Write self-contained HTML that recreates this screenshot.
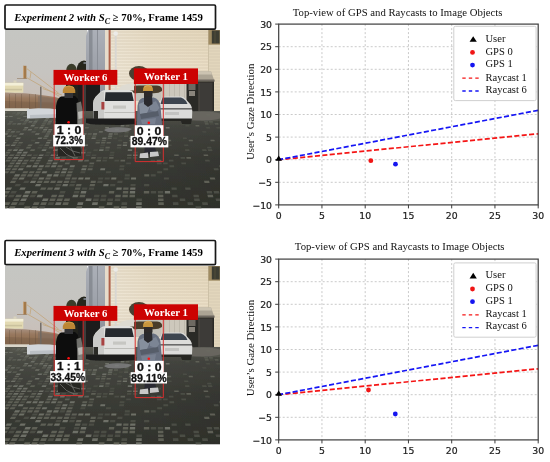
<!DOCTYPE html><html><head><meta charset="utf-8"><style>
html,body{margin:0;padding:0;background:#fff;width:550px;height:462px;overflow:hidden}
.tb{position:absolute;left:4px;width:200px;height:22.5px;border:1.5px solid transparent;background:transparent;
 font-family:"Liberation Serif",serif;font-size:10.75px;line-height:24.3px;white-space:nowrap;padding-left:9.2px;box-sizing:content-box;color:#000;overflow:hidden}
.tb .bi{font-style:italic;font-weight:bold}
.tb .it{font-style:italic;font-weight:bold}
.tb sub{font-size:8px;vertical-align:-2.5px;line-height:0}
.tb .b{font-weight:bold}
svg{position:absolute;left:0;top:0}
.wl{font-family:"Liberation Serif",serif;font-weight:bold;font-size:10.7px;fill:#fff;text-anchor:middle}
.sc{font-family:"Liberation Sans",sans-serif;font-weight:bold;font-size:10.2px;fill:#111;stroke:#111;stroke-width:0.3;text-anchor:middle}
.ttl{font-family:"Liberation Serif",serif;font-size:10.72px;fill:#111;text-anchor:middle}
.tk{font-family:"DejaVu Sans",sans-serif;font-size:9.3px;fill:#222;stroke:#222;stroke-width:0.22}
.yl{font-family:"Liberation Serif",serif;font-size:10.8px;fill:#111;text-anchor:middle}
.lg{font-family:"Liberation Serif",serif;font-size:10.55px;fill:#111}
.grid{stroke:#c4c4c4;stroke-width:0.9;stroke-dasharray:2 2;fill:none}
.ray{stroke-width:1.7;stroke-dasharray:5.1 2.32;stroke-dashoffset:0.69;fill:none}
.lray{stroke-width:1.3;stroke-dasharray:3.4 3.1;fill:none}
</style></head><body>
<svg width="550" height="462" viewBox="0 0 550 462">
<defs>
<linearGradient id="sky" x1="0" y1="0" x2="0" y2="1">
<stop offset="0" stop-color="#c5c6c2"/><stop offset="0.5" stop-color="#c6c4c0"/><stop offset="0.82" stop-color="#c9bfb8"/><stop offset="1" stop-color="#c6b5a9"/></linearGradient>
<linearGradient id="facade" x1="0" y1="0" x2="0" y2="1">
<stop offset="0" stop-color="#e4d7bc"/><stop offset="0.45" stop-color="#eadec6"/><stop offset="1" stop-color="#ddd1b9"/></linearGradient>
<linearGradient id="ground" x1="0" y1="0" x2="0" y2="1">
<stop offset="0" stop-color="#56574f"/><stop offset="0.15" stop-color="#474842"/><stop offset="0.5" stop-color="#3b3c36"/><stop offset="1" stop-color="#32342e"/></linearGradient>
<linearGradient id="groundh" x1="0" y1="0" x2="1" y2="0">
<stop offset="0" stop-color="#000" stop-opacity="0"/><stop offset="0.5" stop-color="#000" stop-opacity="0"/><stop offset="1" stop-color="#000" stop-opacity="0.1"/></linearGradient>
<filter id="soft" x="0" y="0" width="1" height="1"><feGaussianBlur stdDeviation="0.45"/></filter>
<linearGradient id="bside" x1="0" y1="0" x2="0" y2="1">
<stop offset="0" stop-color="#acb0b8"/><stop offset="0.6" stop-color="#989ca4"/><stop offset="1" stop-color="#82868e"/></linearGradient>
<linearGradient id="brown" x1="0" y1="0" x2="0" y2="1">
<stop offset="0" stop-color="#a89282"/><stop offset="0.35" stop-color="#98785e"/><stop offset="0.7" stop-color="#8c6c51"/><stop offset="1" stop-color="#86684e"/></linearGradient>
<linearGradient id="facadeh" x1="0" y1="0" x2="1" y2="0">
<stop offset="0" stop-color="#f4f2ee" stop-opacity="0.45"/><stop offset="0.45" stop-color="#f4f2ee" stop-opacity="0.15"/><stop offset="1" stop-color="#f4f2ee" stop-opacity="0"/></linearGradient>
</defs>
<rect x="5" y="5" width="210.5" height="24.2" rx="1.2" fill="#fff" stroke="#181818" stroke-width="1.7"/>
<rect x="5" y="240.5" width="210.5" height="24.2" rx="1.2" fill="#fff" stroke="#181818" stroke-width="1.7"/>
<g transform="translate(0,0)">
<clipPath id="cp0"><rect x="5" y="30" width="215" height="178.5"/></clipPath>
<g clip-path="url(#cp0)"><g filter="url(#soft)">
<rect x="5" y="30" width="82" height="85" fill="url(#sky)"/>
<rect x="5" y="82.7" width="18.3" height="10" fill="#e2d9b2"/>
<rect x="5" y="83" width="18.3" height="2.6" fill="#f3efd8"/>
<rect x="5" y="88.8" width="17" height="1.6" fill="#cbc29e"/>
<rect x="13.5" y="80.5" width="3" height="2.5" fill="#d8d2bc"/>
<path d="M5 92.5 L15 93 L25 93.3 L35 94.3 L45 95.5 L55 97 L63 99.5 L63 109.5 L5 109.5 Z" fill="url(#brown)"/>
<path d="M38 96 L63 99.5 L63 109.5 L38 109.5 Z" fill="#7c6c60" opacity="0.55"/>
<path d="M5 101 L63 103 L63 109.5 L5 109.5 Z" fill="#7a5f4a" opacity="0.5"/>
<rect x="9" y="94" width="0.7" height="14" fill="#5e4a3a" opacity="0.45"/>
<rect x="15" y="94" width="0.7" height="14" fill="#5e4a3a" opacity="0.45"/>
<rect x="21" y="94" width="0.7" height="14" fill="#5e4a3a" opacity="0.45"/>
<rect x="29" y="94" width="0.7" height="14" fill="#5e4a3a" opacity="0.45"/>
<rect x="35" y="94" width="0.7" height="14" fill="#5e4a3a" opacity="0.45"/>
<rect x="5" y="108.3" width="24" height="2.8" fill="#dad6ca"/>
<path d="M5 111 L28 111 L28 118 L5 118 Z" fill="#4a4c4a"/>
<rect x="23.2" y="65.8" width="3.2" height="13" fill="#a37a4c"/>
<rect x="23.2" y="65.8" width="0.8" height="13" fill="#c8a478"/>
<path d="M26 68 L58.5 93 M26.4 77.5 L59.5 96.4 M42.7 88.6 L62 95 M31 72 L30 78.5" stroke="#c2a882" stroke-width="0.9" fill="none"/>
<path d="M17 78.5 L27 78.5" stroke="#9a8470" stroke-width="0.7"/>
<rect x="40.1" y="86.6" width="1.4" height="26.5" fill="#6e6862"/>
<ellipse cx="71.5" cy="70.5" rx="5.3" ry="6.8" fill="#3a3c2c"/>
<ellipse cx="84" cy="69.5" rx="7.3" ry="9" fill="#25261f"/>
<rect x="66" y="71" width="26" height="48" fill="#22231d"/>
<path d="M86 36 L88 30 L105 30 L105 113 L86 113 Z" fill="url(#bside)"/>
<rect x="89" y="30" width="3.5" height="80" fill="#7c8088" opacity="0.7"/>
<rect x="97" y="30" width="1" height="80" fill="#8a8e96"/>
<rect x="83.5" y="62" width="2.5" height="2" fill="#70747a"/>
<rect x="105" y="30" width="110" height="84" fill="url(#facade)"/>
<rect x="105" y="30" width="103" height="84" fill="url(#facadeh)"/>
<path d="M111 32 L208 32" stroke="#c6b79e" stroke-width="0.7" opacity="0.6"/>
<path d="M111 35 L208 35" stroke="#c6b79e" stroke-width="0.7" opacity="0.6"/>
<path d="M111 38 L208 38" stroke="#c6b79e" stroke-width="0.7" opacity="0.6"/>
<path d="M111 41 L208 41" stroke="#c6b79e" stroke-width="0.7" opacity="0.6"/>
<path d="M111 44 L208 44" stroke="#c6b79e" stroke-width="0.7" opacity="0.6"/>
<path d="M111 47 L208 47" stroke="#c6b79e" stroke-width="0.7" opacity="0.6"/>
<path d="M111 50 L208 50" stroke="#c6b79e" stroke-width="0.7" opacity="0.6"/>
<path d="M111 53 L208 53" stroke="#c6b79e" stroke-width="0.7" opacity="0.6"/>
<path d="M111 56 L208 56" stroke="#c6b79e" stroke-width="0.7" opacity="0.6"/>
<path d="M111 59 L208 59" stroke="#c6b79e" stroke-width="0.7" opacity="0.6"/>
<path d="M111 62 L208 62" stroke="#c6b79e" stroke-width="0.7" opacity="0.6"/>
<path d="M111 65 L208 65" stroke="#c6b79e" stroke-width="0.7" opacity="0.6"/>
<path d="M111 68 L208 68" stroke="#c6b79e" stroke-width="0.7" opacity="0.6"/>
<path d="M111 71 L208 71" stroke="#c6b79e" stroke-width="0.7" opacity="0.6"/>
<path d="M111 74 L208 74" stroke="#c6b79e" stroke-width="0.7" opacity="0.6"/>
<path d="M111 77 L208 77" stroke="#c6b79e" stroke-width="0.7" opacity="0.6"/>
<path d="M111 80 L208 80" stroke="#c6b79e" stroke-width="0.7" opacity="0.6"/>
<path d="M111 83 L208 83" stroke="#c6b79e" stroke-width="0.7" opacity="0.6"/>
<path d="M111 86 L208 86" stroke="#c6b79e" stroke-width="0.7" opacity="0.6"/>
<path d="M111 89 L208 89" stroke="#c6b79e" stroke-width="0.7" opacity="0.6"/>
<path d="M111 92 L208 92" stroke="#c6b79e" stroke-width="0.7" opacity="0.6"/>
<path d="M111 95 L208 95" stroke="#c6b79e" stroke-width="0.7" opacity="0.6"/>
<path d="M111 98 L208 98" stroke="#c6b79e" stroke-width="0.7" opacity="0.6"/>
<rect x="105" y="30" width="3.5" height="84" fill="#e6dccb"/>
<rect x="208" y="30" width="12" height="84" fill="#e2d6bc"/>
<rect x="208" y="30" width="0.8" height="84" fill="#c8bca2"/>
<path d="M209 48 L220 48" stroke="#c2b6a2" stroke-width="0.6" opacity="0.5"/>
<path d="M209 51 L220 51" stroke="#c2b6a2" stroke-width="0.6" opacity="0.5"/>
<path d="M209 54 L220 54" stroke="#c2b6a2" stroke-width="0.6" opacity="0.5"/>
<path d="M209 57 L220 57" stroke="#c2b6a2" stroke-width="0.6" opacity="0.5"/>
<path d="M209 60 L220 60" stroke="#c2b6a2" stroke-width="0.6" opacity="0.5"/>
<path d="M209 63 L220 63" stroke="#c2b6a2" stroke-width="0.6" opacity="0.5"/>
<path d="M209 66 L220 66" stroke="#c2b6a2" stroke-width="0.6" opacity="0.5"/>
<path d="M209 69 L220 69" stroke="#c2b6a2" stroke-width="0.6" opacity="0.5"/>
<path d="M209 72 L220 72" stroke="#c2b6a2" stroke-width="0.6" opacity="0.5"/>
<path d="M209 75 L220 75" stroke="#c2b6a2" stroke-width="0.6" opacity="0.5"/>
<path d="M209 78 L220 78" stroke="#c2b6a2" stroke-width="0.6" opacity="0.5"/>
<path d="M209 81 L220 81" stroke="#c2b6a2" stroke-width="0.6" opacity="0.5"/>
<path d="M209 84 L220 84" stroke="#c2b6a2" stroke-width="0.6" opacity="0.5"/>
<path d="M209 87 L220 87" stroke="#c2b6a2" stroke-width="0.6" opacity="0.5"/>
<path d="M209 90 L220 90" stroke="#c2b6a2" stroke-width="0.6" opacity="0.5"/>
<path d="M209 93 L220 93" stroke="#c2b6a2" stroke-width="0.6" opacity="0.5"/>
<path d="M209 96 L220 96" stroke="#c2b6a2" stroke-width="0.6" opacity="0.5"/>
<path d="M209 99 L220 99" stroke="#c2b6a2" stroke-width="0.6" opacity="0.5"/>
<path d="M209 102 L220 102" stroke="#c2b6a2" stroke-width="0.6" opacity="0.5"/>
<path d="M209 105 L220 105" stroke="#c2b6a2" stroke-width="0.6" opacity="0.5"/>
<path d="M209 108 L220 108" stroke="#c2b6a2" stroke-width="0.6" opacity="0.5"/>
<path d="M209 111 L220 111" stroke="#c2b6a2" stroke-width="0.6" opacity="0.5"/>
<rect x="208.4" y="30" width="11.6" height="14.7" fill="#a08c64"/>
<rect x="211.8" y="30.5" width="7.8" height="13" fill="#3e3c30"/>
<rect x="214.5" y="31" width="1" height="12" fill="#55533f" opacity="0.8"/>
<path d="M198 71.5 L211 71.5 L214.5 81 L196.5 81 Z" fill="#aca494"/>
<path d="M198 71.5 L211 71.5 L212 74.5 L197.5 74.5 Z" fill="#ccc3b1"/>
<path d="M196.5 79.5 L214.5 79.5 L214.5 81.8 L196.5 81.8 Z" fill="#6e6860"/>
<rect x="160" y="83" width="27" height="18" fill="#cdc8bc"/>
<rect x="164" y="84" width="0.7" height="16" fill="#a8a498" opacity="0.6"/>
<rect x="169" y="84" width="0.7" height="16" fill="#a8a498" opacity="0.6"/>
<rect x="174" y="84" width="0.7" height="16" fill="#a8a498" opacity="0.6"/>
<rect x="179" y="84" width="0.7" height="16" fill="#a8a498" opacity="0.6"/>
<rect x="184" y="84" width="0.7" height="16" fill="#a8a498" opacity="0.6"/>
<rect x="186.5" y="81.5" width="27.5" height="31" fill="#2c2a27"/>
<rect x="188.5" y="84" width="7" height="6" fill="#6e6a62"/>
<rect x="189" y="91" width="6" height="5" fill="#8a857c"/>
<rect x="199.5" y="82.5" width="13" height="29" fill="#3c3b38"/>
<rect x="198.5" y="82.5" width="1" height="29" fill="#55524c"/>
<rect x="108.6" y="30" width="2" height="62" fill="#ad604a"/>
<rect x="114.8" y="35" width="1.8" height="56" fill="#d8d6d2"/>
<ellipse cx="115.7" cy="33.5" rx="2.3" ry="2.2" fill="#ecebe8"/>
<rect x="78" y="84" width="22" height="37" fill="#1e1f1b"/>
<rect x="84.5" y="84" width="1" height="36" fill="#5a5c5a"/>
<rect x="134" y="84" width="27" height="17" fill="#c2c0b8"/>
<ellipse cx="139" cy="73.5" rx="10" ry="7.5" fill="#4a4030"/>
<path d="M129 91 Q131 85 140 85.5 L157 85.5 Q163 86 162 91 Q158 94 150 93 L138 93 Q131 94 129 91 Z" fill="#4a3e2a"/>
<path d="M117 90 Q122 83 134 83.5 L134 90.5 Z" fill="#dedbd2"/>
<rect x="5" y="111" width="215" height="97.5" fill="url(#ground)"/>
<rect x="5" y="111" width="215" height="98" fill="url(#groundh)"/>
<path d="M3.6 112.5L7.1 112.5L6.0 113.6L2.5 113.6zM17.3 112.5L20.8 112.5L19.9 113.6L16.4 113.6zM21.9 112.5L25.4 112.5L24.5 113.6L21.0 113.6zM26.5 112.5L30.0 112.5L29.1 113.6L25.6 113.6zM31.1 112.5L34.6 112.5L33.8 113.6L30.3 113.6zM40.3 112.5L43.8 112.5L43.0 113.6L39.5 113.6zM67.9 112.5L71.4 112.5L70.8 113.6L67.3 113.6zM100.0 112.5L103.5 112.5L103.2 113.6L99.7 113.6zM39.1 114.2L42.6 114.2L41.8 115.3L38.3 115.3zM53.0 114.2L56.6 114.2L55.9 115.3L52.3 115.3zM62.3 114.2L65.8 114.2L65.2 115.3L61.7 115.3zM0.3 115.9L3.8 115.9L2.7 117.1L-0.9 117.1zM5.0 115.9L8.5 115.9L7.5 117.1L3.9 117.1zM9.7 115.9L13.2 115.9L12.2 117.1L8.6 117.1zM23.7 115.9L27.3 115.9L26.4 117.1L22.8 117.1zM28.4 115.9L32.0 115.9L31.1 117.1L27.5 117.1zM47.2 115.9L50.8 115.9L50.1 117.1L46.5 117.1zM51.9 115.9L55.5 115.9L54.8 117.1L51.2 117.1zM61.3 115.9L64.9 115.9L64.3 117.1L60.7 117.1zM164.7 115.9L168.2 115.9L168.4 117.1L164.8 117.1zM46.1 117.7L49.7 117.7L48.9 118.9L45.3 118.9zM79.3 117.7L82.9 117.7L82.4 118.9L78.8 118.9zM117.3 117.7L120.9 117.7L120.7 118.9L117.1 118.9zM25.7 119.5L29.3 119.5L28.4 120.7L24.7 120.7zM44.9 119.5L48.5 119.5L47.8 120.7L44.1 120.7zM64.1 119.5L67.7 119.5L67.1 120.7L63.4 120.7zM29.1 121.3L32.8 121.3L31.9 122.6L28.2 122.6zM33.9 121.3L37.6 121.3L36.8 122.6L33.1 122.6zM48.5 121.3L52.2 121.3L51.5 122.6L47.7 122.6zM58.2 121.3L61.9 121.3L61.3 122.6L57.5 122.6zM77.7 121.3L81.4 121.3L80.8 122.6L77.1 122.6zM87.4 121.3L91.1 121.3L90.6 122.6L86.9 122.6zM106.8 121.3L110.5 121.3L110.2 122.6L106.5 122.6zM126.3 121.3L130.0 121.3L129.8 122.6L126.1 122.6zM17.8 123.2L21.6 123.2L20.6 124.5L16.8 124.5zM91.6 123.2L95.3 123.2L94.9 124.5L91.1 124.5zM101.4 123.2L105.2 123.2L104.8 124.5L101.1 124.5zM31.2 125.1L35.0 125.1L34.1 126.4L30.3 126.4zM120.8 125.1L124.5 125.1L124.3 126.4L120.5 126.4zM24.8 127.1L28.6 127.1L27.6 128.4L23.8 128.4zM39.9 127.1L43.7 127.1L42.9 128.4L39.0 128.4zM105.3 127.1L109.1 127.1L108.8 128.4L105.0 128.4zM165.7 127.1L169.5 127.1L169.7 128.4L165.8 128.4zM28.4 129.1L32.2 129.1L31.3 130.5L27.4 130.5zM43.6 129.1L47.5 129.1L46.7 130.5L42.8 130.5zM48.7 129.1L52.6 129.1L51.8 130.5L47.9 130.5zM115.0 129.1L118.8 129.1L118.6 130.5L114.7 130.5zM1.1 131.2L5.0 131.2L3.9 132.5L-0.1 132.5zM11.4 131.2L15.3 131.2L14.3 132.5L10.3 132.5zM47.5 131.2L51.4 131.2L50.6 132.5L46.7 132.5zM73.3 131.2L77.2 131.2L76.6 132.5L72.7 132.5zM99.1 131.2L103.0 131.2L102.6 132.5L98.7 132.5zM4.5 133.2L8.5 133.2L7.3 134.7L3.3 134.7zM20.2 133.2L24.1 133.2L23.1 134.7L19.1 134.7zM35.8 133.2L39.8 133.2L38.9 134.7L34.9 134.7zM67.1 133.2L71.1 133.2L70.5 134.7L66.5 134.7zM82.8 133.2L86.8 133.2L86.2 134.7L82.2 134.7zM93.2 133.2L97.2 133.2L96.8 134.7L92.8 134.7zM108.9 133.2L112.8 133.2L112.5 134.7L108.5 134.7zM8.0 135.4L12.0 135.4L10.9 136.8L6.8 136.8zM45.0 135.4L49.0 135.4L48.2 136.8L44.1 136.8zM71.4 135.4L75.4 135.4L74.8 136.8L70.8 136.8zM76.7 135.4L80.7 135.4L80.1 136.8L76.1 136.8zM108.4 135.4L112.4 135.4L112.1 136.8L108.0 136.8zM150.6 135.4L154.6 135.4L154.7 136.8L150.6 136.8zM16.9 137.6L21.0 137.6L19.9 139.0L15.8 139.0zM38.3 137.6L42.4 137.6L41.5 139.0L37.4 139.0zM91.8 137.6L95.9 137.6L95.4 139.0L91.3 139.0zM102.5 137.6L106.6 137.6L106.2 139.0L102.1 139.0zM129.2 137.6L133.3 137.6L133.2 139.0L129.1 139.0zM74.8 139.8L78.9 139.8L78.3 141.3L74.2 141.3zM150.6 139.8L154.8 139.8L154.8 141.3L150.7 141.3zM2.6 142.1L6.7 142.1L5.5 143.6L1.3 143.6zM35.5 142.1L39.7 142.1L38.7 143.6L34.5 143.6zM46.5 142.1L50.6 142.1L49.8 143.6L45.6 143.6zM73.9 142.1L78.0 142.1L77.4 143.6L73.2 143.6zM139.7 142.1L143.9 142.1L143.8 143.6L139.6 143.6zM0.7 144.4L4.9 144.4L3.7 146.0L-0.6 146.0zM11.8 144.4L16.0 144.4L14.9 146.0L10.6 146.0zM84.0 144.4L88.2 144.4L87.7 146.0L83.4 146.0zM122.9 144.4L127.1 144.4L126.9 146.0L122.7 146.0zM71.9 146.8L76.2 146.8L75.5 148.4L71.2 148.4zM77.5 146.8L81.8 146.8L81.2 148.4L76.9 148.4zM13.9 149.3L18.2 149.3L17.0 150.9L12.7 150.9zM19.6 149.3L23.9 149.3L22.8 150.9L18.4 150.9zM42.4 149.3L46.7 149.3L45.8 150.9L41.4 150.9zM53.8 149.3L58.1 149.3L57.3 150.9L52.9 150.9zM59.5 149.3L63.8 149.3L63.0 150.9L58.7 150.9zM99.4 149.3L103.7 149.3L103.3 150.9L98.9 150.9zM127.9 149.3L132.2 149.3L132.1 150.9L127.7 150.9zM17.8 151.8L22.2 151.8L21.1 153.5L16.7 153.5zM23.6 151.8L28.0 151.8L26.9 153.5L22.5 153.5zM75.6 151.8L80.0 151.8L79.4 153.5L74.9 153.5zM81.4 151.8L85.8 151.8L85.2 153.5L80.8 153.5zM21.9 154.4L26.4 154.4L25.3 156.1L20.8 156.1zM39.5 154.4L43.9 154.4L43.0 156.1L38.5 156.1zM51.2 154.4L55.6 154.4L54.8 156.1L50.3 156.1zM57.0 154.4L61.5 154.4L60.7 156.1L56.2 156.1zM133.1 154.4L137.6 154.4L137.5 156.1L133.0 156.1zM14.2 157.0L18.8 157.0L17.6 158.8L13.0 158.8zM38.0 157.0L42.5 157.0L41.5 158.8L37.0 158.8zM55.8 157.0L60.3 157.0L59.5 158.8L54.9 158.8zM18.4 159.7L23.0 159.7L21.8 161.5L17.2 161.5zM48.5 159.7L53.0 159.7L52.1 161.5L47.5 161.5zM60.5 159.7L65.1 159.7L64.3 161.5L59.7 161.5zM78.5 159.7L83.1 159.7L82.5 161.5L77.9 161.5zM16.6 162.5L21.2 162.5L20.0 164.3L15.3 164.3zM53.2 162.5L57.8 162.5L56.9 164.3L52.3 164.3zM27.1 165.3L31.8 165.3L30.6 167.2L25.9 167.2zM33.2 165.3L37.9 165.3L36.9 167.2L32.2 167.2zM39.4 165.3L44.1 165.3L43.1 167.2L38.4 167.2zM51.8 165.3L56.5 165.3L55.6 167.2L50.9 167.2zM70.3 165.3L75.0 165.3L74.3 167.2L69.6 167.2zM0.2 168.2L5.0 168.2L3.6 170.2L-1.2 170.2zM19.0 168.2L23.8 168.2L22.6 170.2L17.8 170.2zM62.9 168.2L67.7 168.2L66.9 170.2L62.1 170.2zM81.8 168.2L86.5 168.2L85.9 170.2L81.1 170.2zM100.6 168.2L105.3 168.2L104.9 170.2L100.1 170.2zM42.6 171.2L47.4 171.2L46.4 173.3L41.6 173.3zM61.7 171.2L66.5 171.2L65.7 173.3L60.8 173.3zM15.2 174.3L20.1 174.3L18.9 176.4L13.9 176.4zM47.5 174.3L52.4 174.3L51.4 176.4L46.5 176.4zM53.9 174.3L58.9 174.3L58.0 176.4L53.0 176.4zM19.8 177.5L24.8 177.5L23.5 179.6L18.5 179.6zM39.4 177.5L44.4 177.5L43.4 179.6L38.3 179.6zM78.7 177.5L83.7 177.5L83.1 179.6L78.0 179.6zM85.3 177.5L90.3 177.5L89.7 179.6L84.6 179.6zM111.5 177.5L116.5 177.5L116.1 179.6L111.1 179.6zM131.1 177.5L136.1 177.5L136.0 179.6L131.0 179.6zM31.1 180.7L36.2 180.7L35.0 182.9L29.9 182.9zM36.1 184.1L41.2 184.1L40.1 186.3L34.9 186.3zM63.1 184.1L68.2 184.1L67.4 186.3L62.2 186.3zM103.6 184.1L108.7 184.1L108.3 186.3L103.1 186.3zM6.9 187.5L12.1 187.5L10.7 189.8L5.5 189.8zM20.6 187.5L25.8 187.5L24.6 189.8L19.3 189.8zM54.9 187.5L60.1 187.5L59.2 189.8L53.9 189.8zM116.6 187.5L121.8 187.5L121.5 189.8L116.2 189.8zM130.3 187.5L135.5 187.5L135.3 189.8L130.1 189.8zM25.6 191.0L30.9 191.0L29.6 193.4L24.3 193.4zM81.2 191.0L86.5 191.0L85.9 193.4L80.5 193.4zM130.0 191.0L135.2 191.0L135.1 193.4L129.8 193.4zM164.8 191.0L170.0 191.0L170.2 193.4L164.9 193.4zM23.6 194.7L29.0 194.7L27.7 197.2L22.3 197.2zM37.7 194.7L43.1 194.7L42.0 197.2L36.6 197.2zM73.1 194.7L78.5 194.7L77.7 197.2L72.3 197.2zM21.6 198.4L27.0 198.4L25.7 201.0L20.2 201.0zM43.1 198.4L48.6 198.4L47.5 201.0L42.0 201.0zM86.2 198.4L91.7 198.4L91.1 201.0L85.5 201.0zM56.0 202.3L61.5 202.3L60.6 204.9L55.0 204.9zM77.9 202.3L83.4 202.3L82.7 204.9L77.1 204.9zM92.5 202.3L98.0 202.3L97.5 204.9L91.9 204.9zM136.3 202.3L141.8 202.3L141.7 204.9L136.1 204.9zM136.1 206.3L141.7 206.3L141.6 209.0L135.9 209.0z" fill="#6e7067"/>
<path d="M12.8 112.5L16.2 112.5L15.3 113.6L11.7 113.6zM72.5 112.5L76.0 112.5L75.4 113.6L71.9 113.6zM81.7 112.5L85.1 112.5L84.7 113.6L81.1 113.6zM15.9 114.2L19.4 114.2L18.4 115.3L14.9 115.3zM20.5 114.2L24.0 114.2L23.1 115.3L19.5 115.3zM48.4 114.2L51.9 114.2L51.2 115.3L47.6 115.3zM57.7 114.2L61.2 114.2L60.5 115.3L57.0 115.3zM71.6 114.2L75.1 114.2L74.6 115.3L71.0 115.3zM94.8 114.2L98.4 114.2L98.0 115.3L94.4 115.3zM113.4 114.2L116.9 114.2L116.7 115.3L113.1 115.3zM118.0 114.2L121.6 114.2L121.4 115.3L117.8 115.3zM136.6 114.2L140.2 114.2L140.1 115.3L136.5 115.3zM206.3 114.2L209.8 114.2L210.3 115.3L206.7 115.3zM33.1 115.9L36.7 115.9L35.9 117.1L32.3 117.1zM42.5 115.9L46.1 115.9L45.3 117.1L41.7 117.1zM75.4 115.9L79.0 115.9L78.5 117.1L74.9 117.1zM80.1 115.9L83.7 115.9L83.2 117.1L79.6 117.1zM98.9 115.9L102.5 115.9L102.1 117.1L98.5 117.1zM3.3 117.7L6.9 117.7L5.8 118.9L2.2 118.9zM17.6 117.7L21.2 117.7L20.2 118.9L16.6 118.9zM27.1 117.7L30.7 117.7L29.8 118.9L26.1 118.9zM55.6 117.7L59.2 117.7L58.5 118.9L54.9 118.9zM65.1 117.7L68.7 117.7L68.1 118.9L64.4 118.9zM20.9 119.5L24.5 119.5L23.5 120.7L19.9 120.7zM35.3 119.5L38.9 119.5L38.1 120.7L34.4 120.7zM49.7 119.5L53.3 119.5L52.6 120.7L48.9 120.7zM59.3 119.5L62.9 119.5L62.3 120.7L58.6 120.7zM169.8 119.5L173.4 119.5L173.6 120.7L169.9 120.7zM179.4 119.5L183.1 119.5L183.3 120.7L179.6 120.7zM9.6 121.3L13.3 121.3L12.3 122.6L8.6 122.6zM24.2 121.3L27.9 121.3L27.0 122.6L23.3 122.6zM43.7 121.3L47.4 121.3L46.6 122.6L42.8 122.6zM53.4 121.3L57.1 121.3L56.4 122.6L52.6 122.6zM204.0 121.3L207.7 121.3L208.2 122.6L204.5 122.6zM208.9 121.3L212.6 121.3L213.1 122.6L209.4 122.6zM8.0 123.2L11.7 123.2L10.7 124.5L6.9 124.5zM12.9 123.2L16.7 123.2L15.6 124.5L11.9 124.5zM22.8 123.2L26.5 123.2L25.5 124.5L21.8 124.5zM32.6 123.2L36.3 123.2L35.4 124.5L31.7 124.5zM42.4 123.2L46.2 123.2L45.4 124.5L41.6 124.5zM47.3 123.2L51.1 123.2L50.3 124.5L46.5 124.5zM57.2 123.2L60.9 123.2L60.2 124.5L56.5 124.5zM86.7 123.2L90.4 123.2L89.9 124.5L86.2 124.5zM121.1 123.2L124.8 123.2L124.6 124.5L120.9 124.5zM204.7 123.2L208.4 123.2L208.9 124.5L205.1 124.5zM214.5 123.2L218.2 123.2L218.8 124.5L215.0 124.5zM1.4 125.1L5.1 125.1L4.0 126.4L0.2 126.4zM41.2 125.1L44.9 125.1L44.1 126.4L40.3 126.4zM76.0 125.1L79.8 125.1L79.2 126.4L75.4 126.4zM125.7 125.1L129.5 125.1L129.3 126.4L125.5 126.4zM195.4 125.1L199.1 125.1L199.5 126.4L195.7 126.4zM-0.4 127.1L3.4 127.1L2.3 128.4L-1.6 128.4zM34.8 127.1L38.7 127.1L37.8 128.4L33.9 128.4zM44.9 127.1L48.7 127.1L47.9 128.4L44.1 128.4zM60.0 127.1L63.8 127.1L63.1 128.4L59.3 128.4zM65.0 127.1L68.9 127.1L68.2 128.4L64.4 128.4zM85.2 127.1L89.0 127.1L88.5 128.4L84.7 128.4zM8.0 129.1L11.9 129.1L10.8 130.5L6.9 130.5zM23.3 129.1L27.1 129.1L26.2 130.5L22.3 130.5zM125.1 129.1L129.0 129.1L128.8 130.5L124.9 130.5zM6.3 131.2L10.2 131.2L9.1 132.5L5.1 132.5zM16.6 131.2L20.5 131.2L19.5 132.5L15.5 132.5zM32.0 131.2L36.0 131.2L35.0 132.5L31.1 132.5zM42.4 131.2L46.3 131.2L45.4 132.5L41.5 132.5zM57.8 131.2L61.7 131.2L61.0 132.5L57.1 132.5zM78.4 131.2L82.4 131.2L81.8 132.5L77.9 132.5zM124.8 131.2L128.8 131.2L128.6 132.5L124.6 132.5zM155.8 131.2L159.7 131.2L159.8 132.5L155.8 132.5zM46.3 133.2L50.2 133.2L49.4 134.7L45.4 134.7zM88.0 133.2L92.0 133.2L91.5 134.7L87.5 134.7zM114.1 133.2L118.1 133.2L117.8 134.7L113.8 134.7zM13.3 135.4L17.3 135.4L16.2 136.8L12.2 136.8zM60.8 135.4L64.8 135.4L64.1 136.8L60.1 136.8zM66.1 135.4L70.1 135.4L69.5 136.8L65.4 136.8zM92.5 135.4L96.5 135.4L96.1 136.8L92.1 136.8zM124.2 135.4L128.2 135.4L128.1 136.8L124.0 136.8zM134.8 135.4L138.8 135.4L138.7 136.8L134.7 136.8zM43.7 137.6L47.7 137.6L46.9 139.0L42.8 139.0zM81.1 137.6L85.2 137.6L84.6 139.0L80.5 139.0zM107.9 137.6L111.9 137.6L111.6 139.0L107.5 139.0zM134.6 137.6L138.7 137.6L138.6 139.0L134.5 139.0zM150.6 137.6L154.7 137.6L154.7 139.0L150.6 139.0zM15.3 139.8L19.4 139.8L18.3 141.3L14.1 141.3zM47.8 139.8L51.9 139.8L51.0 141.3L46.9 141.3zM69.4 139.8L73.5 139.8L72.9 141.3L68.7 141.3zM101.9 139.8L106.0 139.8L105.7 141.3L101.5 141.3zM129.0 139.8L133.1 139.8L133.0 141.3L128.8 141.3zM134.4 139.8L138.5 139.8L138.4 141.3L134.3 141.3zM166.9 139.8L171.0 139.8L171.2 141.3L167.0 141.3zM188.6 139.8L192.7 139.8L193.0 141.3L188.9 141.3zM210.2 139.8L214.3 139.8L214.9 141.3L210.7 141.3zM13.5 142.1L17.7 142.1L16.6 143.6L12.4 143.6zM19.0 142.1L23.2 142.1L22.1 143.6L17.9 143.6zM95.8 142.1L100.0 142.1L99.6 143.6L95.4 143.6zM101.3 142.1L105.5 142.1L105.1 143.6L100.9 143.6zM106.8 142.1L111.0 142.1L110.6 143.6L106.4 143.6zM123.2 142.1L127.4 142.1L127.2 143.6L123.0 143.6zM6.2 144.4L10.5 144.4L9.3 146.0L5.0 146.0zM28.5 144.4L32.7 144.4L31.7 146.0L27.4 146.0zM45.1 144.4L49.3 144.4L48.5 146.0L44.2 146.0zM61.8 144.4L66.0 144.4L65.3 146.0L61.0 146.0zM117.3 144.4L121.6 144.4L121.3 146.0L117.1 146.0zM134.0 144.4L138.2 144.4L138.1 146.0L133.9 146.0zM26.9 146.8L31.2 146.8L30.1 148.4L25.8 148.4zM49.4 146.8L53.7 146.8L52.8 148.4L48.5 148.4zM60.6 146.8L64.9 146.8L64.2 148.4L59.9 148.4zM105.7 146.8L109.9 146.8L109.6 148.4L105.3 148.4zM8.2 149.3L12.5 149.3L11.3 150.9L6.9 150.9zM31.0 149.3L35.3 149.3L34.3 150.9L29.9 150.9zM65.2 149.3L69.5 149.3L68.8 150.9L64.4 150.9zM0.5 151.8L4.9 151.8L3.6 153.5L-0.8 153.5zM6.3 151.8L10.7 151.8L9.4 153.5L5.0 153.5zM150.7 151.8L155.1 151.8L155.1 153.5L150.7 153.5zM4.4 154.4L8.8 154.4L7.5 156.1L3.1 156.1zM10.2 154.4L14.7 154.4L13.4 156.1L9.0 156.1zM16.1 154.4L20.5 154.4L19.3 156.1L14.9 156.1zM27.8 154.4L32.2 154.4L31.2 156.1L26.7 156.1zM127.3 154.4L131.7 154.4L131.6 156.1L127.1 156.1zM174.1 154.4L178.6 154.4L178.8 156.1L174.3 156.1zM203.4 154.4L207.8 154.4L208.4 156.1L203.9 156.1zM8.3 157.0L12.8 157.0L11.6 158.8L7.0 158.8zM20.2 157.0L24.7 157.0L23.5 158.8L19.0 158.8zM32.0 157.0L36.6 157.0L35.5 158.8L31.0 158.8zM73.6 157.0L78.1 157.0L77.4 158.8L72.9 158.8zM91.4 157.0L95.9 157.0L95.4 158.8L90.9 158.8zM109.2 157.0L113.7 157.0L113.4 158.8L108.8 158.8zM186.3 157.0L190.8 157.0L191.2 158.8L186.6 158.8zM0.4 159.7L4.9 159.7L3.6 161.5L-1.0 161.5zM6.4 159.7L10.9 159.7L9.7 161.5L5.1 161.5zM12.4 159.7L17.0 159.7L15.7 161.5L11.1 161.5zM24.4 159.7L29.0 159.7L27.9 161.5L23.3 161.5zM30.4 159.7L35.0 159.7L33.9 161.5L29.3 161.5zM36.4 159.7L41.0 159.7L40.0 161.5L35.4 161.5zM84.6 159.7L89.1 159.7L88.6 161.5L84.0 161.5zM96.6 159.7L101.2 159.7L100.7 161.5L96.1 161.5zM120.6 159.7L125.2 159.7L125.0 161.5L120.4 161.5zM156.7 159.7L161.3 159.7L161.4 161.5L156.8 161.5zM10.5 162.5L15.1 162.5L13.8 164.3L9.2 164.3zM22.7 162.5L27.3 162.5L26.2 164.3L21.5 164.3zM34.9 162.5L39.5 162.5L38.5 164.3L33.8 164.3zM47.1 162.5L51.7 162.5L50.8 164.3L46.1 164.3zM65.4 162.5L70.0 162.5L69.2 164.3L64.6 164.3zM89.7 162.5L94.4 162.5L93.9 164.3L89.2 164.3zM8.5 165.3L13.2 165.3L11.9 167.2L7.2 167.2zM14.7 165.3L19.4 165.3L18.2 167.2L13.4 167.2zM45.6 165.3L50.3 165.3L49.4 167.2L44.6 167.2zM58.0 165.3L62.7 165.3L61.9 167.2L57.1 167.2zM82.7 165.3L87.4 165.3L86.8 167.2L82.1 167.2zM6.5 168.2L11.3 168.2L9.9 170.2L5.1 170.2zM12.8 168.2L17.5 168.2L16.3 170.2L11.5 170.2zM37.9 168.2L42.6 168.2L41.6 170.2L36.8 170.2zM88.0 168.2L92.8 168.2L92.3 170.2L87.4 170.2zM4.4 171.2L9.3 171.2L7.9 173.3L3.0 173.3zM10.8 171.2L15.6 171.2L14.3 173.3L9.5 173.3zM23.5 171.2L28.4 171.2L27.2 173.3L22.3 173.3zM29.9 171.2L34.7 171.2L33.6 173.3L28.7 173.3zM36.2 171.2L41.1 171.2L40.0 173.3L35.2 173.3zM55.3 171.2L60.2 171.2L59.3 173.3L54.4 173.3zM68.1 171.2L72.9 171.2L72.1 173.3L67.3 173.3zM21.7 174.3L26.6 174.3L25.4 176.4L20.4 176.4zM28.1 174.3L33.0 174.3L31.9 176.4L26.9 176.4zM34.6 174.3L39.5 174.3L38.4 176.4L33.5 176.4zM66.9 174.3L71.8 174.3L71.0 176.4L66.1 176.4zM144.3 174.3L149.2 174.3L149.2 176.4L144.3 176.4zM0.1 177.5L5.1 177.5L3.7 179.6L-1.3 179.6zM13.2 177.5L18.2 177.5L16.9 179.6L11.9 179.6zM46.0 177.5L51.0 177.5L50.0 179.6L45.0 179.6zM65.6 177.5L70.6 177.5L69.8 179.6L64.8 179.6zM72.2 177.5L77.2 177.5L76.4 179.6L71.4 179.6zM209.7 177.5L214.7 177.5L215.4 179.6L210.3 179.6zM11.2 180.7L16.2 180.7L14.9 182.9L9.8 182.9zM37.8 180.7L42.8 180.7L41.8 182.9L36.7 182.9zM44.4 180.7L49.5 180.7L48.5 182.9L43.4 182.9zM51.1 180.7L56.1 180.7L55.2 182.9L50.1 182.9zM57.7 180.7L62.8 180.7L61.9 182.9L56.8 182.9zM64.4 180.7L69.4 180.7L68.6 182.9L63.5 182.9zM91.0 180.7L96.0 180.7L95.5 182.9L90.4 182.9zM204.0 180.7L209.0 180.7L209.6 182.9L204.5 182.9zM76.6 184.1L81.7 184.1L81.0 186.3L75.8 186.3zM90.1 184.1L95.2 184.1L94.6 186.3L89.5 186.3zM0.1 187.5L5.3 187.5L3.8 189.8L-1.5 189.8zM41.2 187.5L46.4 187.5L45.3 189.8L40.1 189.8zM48.0 187.5L53.2 187.5L52.2 189.8L47.0 189.8zM75.4 187.5L80.7 187.5L79.9 189.8L74.7 189.8zM123.4 187.5L128.6 187.5L128.4 189.8L123.1 189.8zM4.7 191.0L10.0 191.0L8.5 193.4L3.2 193.4zM32.5 191.0L37.8 191.0L36.6 193.4L31.3 193.4zM109.1 191.0L114.4 191.0L114.0 193.4L108.7 193.4zM123.0 191.0L128.3 191.0L128.1 193.4L122.7 193.4zM143.9 191.0L149.2 191.0L149.2 193.4L143.8 193.4zM2.4 194.7L7.8 194.7L6.3 197.2L0.8 197.2zM16.5 194.7L21.9 194.7L20.6 197.2L15.1 197.2zM51.9 194.7L57.3 194.7L56.3 197.2L50.9 197.2zM59.0 194.7L64.3 194.7L63.4 197.2L58.0 197.2zM80.2 194.7L85.5 194.7L84.8 197.2L79.4 197.2zM115.5 194.7L120.9 194.7L120.6 197.2L115.1 197.2zM122.6 194.7L127.9 194.7L127.7 197.2L122.3 197.2zM129.6 194.7L135.0 194.7L134.9 197.2L129.4 197.2zM157.9 194.7L163.3 194.7L163.4 197.2L158.0 197.2zM207.4 194.7L212.8 194.7L213.4 197.2L208.0 197.2zM0.0 198.4L5.5 198.4L3.9 201.0L-1.6 201.0zM14.4 198.4L19.9 198.4L18.5 201.0L13.0 201.0zM50.3 198.4L55.8 198.4L54.8 201.0L49.3 201.0zM57.5 198.4L63.0 198.4L62.0 201.0L56.5 201.0zM64.7 198.4L70.1 198.4L69.3 201.0L63.8 201.0zM158.0 198.4L163.5 198.4L163.6 201.0L158.1 201.0zM4.9 202.3L10.5 202.3L8.9 204.9L3.3 204.9zM12.2 202.3L17.8 202.3L16.3 204.9L10.7 204.9zM34.1 202.3L39.6 202.3L38.4 204.9L32.8 204.9zM41.4 202.3L46.9 202.3L45.8 204.9L40.2 204.9zM63.3 202.3L68.8 202.3L68.0 204.9L62.4 204.9zM107.1 202.3L112.6 202.3L112.2 204.9L106.6 204.9zM158.2 202.3L163.7 202.3L163.9 204.9L158.3 204.9zM2.5 206.3L8.2 206.3L6.6 209.0L0.9 209.0zM9.9 206.3L15.6 206.3L14.1 209.0L8.4 209.0zM24.8 206.3L30.4 206.3L29.1 209.0L23.4 209.0zM32.2 206.3L37.8 206.3L36.6 209.0L30.9 209.0zM76.7 206.3L82.3 206.3L81.6 209.0L75.9 209.0zM99.0 206.3L104.6 206.3L104.1 209.0L98.4 209.0zM113.8 206.3L119.4 206.3L119.1 209.0L113.4 209.0zM121.2 206.3L126.9 206.3L126.6 209.0L120.9 209.0z" fill="#5e6057"/>
<path d="M58.7 112.5L62.2 112.5L61.5 113.6L58.0 113.6zM63.3 112.5L66.8 112.5L66.2 113.6L62.6 113.6zM104.6 112.5L108.1 112.5L107.8 113.6L104.3 113.6zM173.5 112.5L177.0 112.5L177.2 113.6L173.7 113.6zM191.9 112.5L195.4 112.5L195.7 113.6L192.2 113.6zM6.6 114.2L10.1 114.2L9.1 115.3L5.5 115.3zM67.0 114.2L70.5 114.2L69.9 115.3L66.3 115.3zM173.8 114.2L177.3 114.2L177.5 115.3L174.0 115.3zM201.6 114.2L205.2 114.2L205.6 115.3L202.0 115.3zM103.6 115.9L107.2 115.9L106.8 117.1L103.3 117.1zM122.4 115.9L126.0 115.9L125.8 117.1L122.2 117.1zM84.1 117.7L87.7 117.7L87.2 118.9L83.6 118.9zM93.6 117.7L97.2 117.7L96.8 118.9L93.1 118.9zM184.2 119.5L187.9 119.5L188.1 120.7L184.5 120.7zM4.8 121.3L8.5 121.3L7.4 122.6L3.7 122.6zM82.5 121.3L86.2 121.3L85.7 122.6L82.0 122.6zM140.9 121.3L144.6 121.3L144.5 122.6L140.8 122.6zM155.4 121.3L159.1 121.3L159.2 122.6L155.5 122.6zM160.3 121.3L164.0 121.3L164.1 122.6L160.4 122.6zM71.9 123.2L75.7 123.2L75.1 124.5L71.3 124.5zM96.5 123.2L100.2 123.2L99.9 124.5L96.1 124.5zM106.3 123.2L110.1 123.2L109.8 124.5L106.0 124.5zM135.8 123.2L139.6 123.2L139.5 124.5L135.7 124.5zM180.1 123.2L183.8 123.2L184.1 124.5L180.3 124.5zM209.6 123.2L213.3 123.2L213.8 124.5L210.1 124.5zM51.1 125.1L54.9 125.1L54.1 126.4L50.3 126.4zM130.7 125.1L134.5 125.1L134.4 126.4L130.6 126.4zM160.5 125.1L164.3 125.1L164.4 126.4L160.6 126.4zM185.4 125.1L189.2 125.1L189.5 126.4L185.7 126.4zM29.8 127.1L33.6 127.1L32.7 128.4L28.9 128.4zM70.1 127.1L73.9 127.1L73.3 128.4L69.4 128.4zM75.1 127.1L78.9 127.1L78.4 128.4L74.5 128.4zM115.4 127.1L119.2 127.1L118.9 128.4L115.1 128.4zM120.4 127.1L124.2 127.1L124.0 128.4L120.2 128.4zM130.5 127.1L134.3 127.1L134.2 128.4L130.3 128.4zM206.0 127.1L209.8 127.1L210.3 128.4L206.4 128.4zM216.0 127.1L219.9 127.1L220.4 128.4L216.6 128.4zM13.1 129.1L17.0 129.1L15.9 130.5L12.0 130.5zM33.5 129.1L37.3 129.1L36.4 130.5L32.5 130.5zM38.6 129.1L42.4 129.1L41.6 130.5L37.7 130.5zM53.8 129.1L57.7 129.1L57.0 130.5L53.1 130.5zM94.6 129.1L98.5 129.1L98.0 130.5L94.1 130.5zM83.6 131.2L87.5 131.2L87.0 132.5L83.1 132.5zM202.2 131.2L206.1 131.2L206.5 132.5L202.6 132.5zM9.7 133.2L13.7 133.2L12.6 134.7L8.6 134.7zM51.5 133.2L55.4 133.2L54.7 134.7L50.7 134.7zM72.4 133.2L76.3 133.2L75.7 134.7L71.7 134.7zM124.5 133.2L128.5 133.2L128.3 134.7L124.3 134.7zM140.2 133.2L144.2 133.2L144.1 134.7L140.1 134.7zM2.7 135.4L6.7 135.4L5.6 136.8L1.5 136.8zM82.0 135.4L86.0 135.4L85.4 136.8L81.4 136.8zM87.2 135.4L91.3 135.4L90.8 136.8L86.7 136.8zM118.9 135.4L123.0 135.4L122.7 136.8L118.7 136.8zM155.9 135.4L159.9 135.4L160.0 136.8L156.0 136.8zM219.3 135.4L223.3 135.4L223.9 136.8L219.9 136.8zM54.4 137.6L58.4 137.6L57.7 139.0L53.6 139.0zM86.5 137.6L90.5 137.6L90.0 139.0L85.9 139.0zM113.2 137.6L117.3 137.6L117.0 139.0L112.9 139.0zM182.7 137.6L186.8 137.6L187.1 139.0L183.0 139.0zM4.4 139.8L8.5 139.8L7.4 141.3L3.2 141.3zM31.5 139.8L35.6 139.8L34.7 141.3L30.5 141.3zM96.5 139.8L100.6 139.8L100.2 141.3L96.0 141.3zM118.2 139.8L122.3 139.8L122.0 141.3L117.9 141.3zM139.8 139.8L143.9 139.8L143.9 141.3L139.7 141.3zM57.4 142.1L61.6 142.1L60.8 143.6L56.6 143.6zM62.9 142.1L67.1 142.1L66.4 143.6L62.2 143.6zM161.6 142.1L165.8 142.1L165.9 143.6L161.7 143.6zM17.3 144.4L21.6 144.4L20.5 146.0L16.2 146.0zM39.6 144.4L43.8 144.4L42.9 146.0L38.6 146.0zM72.9 144.4L77.1 144.4L76.5 146.0L72.2 146.0zM100.7 144.4L104.9 144.4L104.5 146.0L100.3 146.0zM145.1 144.4L149.3 144.4L149.3 146.0L145.1 146.0zM150.7 144.4L154.9 144.4L154.9 146.0L150.7 146.0zM167.3 144.4L171.6 144.4L171.7 146.0L167.5 146.0zM184.0 144.4L188.2 144.4L188.5 146.0L184.3 146.0zM15.6 146.8L19.9 146.8L18.8 148.4L14.5 148.4zM38.1 146.8L42.4 146.8L41.5 148.4L37.2 148.4zM43.8 146.8L48.0 146.8L47.2 148.4L42.8 148.4zM100.0 146.8L104.3 146.8L103.9 148.4L99.6 148.4zM116.9 146.8L121.2 146.8L120.9 148.4L116.6 148.4zM139.4 146.8L143.7 146.8L143.6 148.4L139.3 148.4zM206.9 146.8L211.2 146.8L211.7 148.4L207.4 148.4zM82.3 149.3L86.6 149.3L86.0 150.9L81.7 150.9zM93.7 149.3L98.0 149.3L97.5 150.9L93.2 150.9zM105.1 149.3L109.4 149.3L109.1 150.9L104.7 150.9zM184.9 149.3L189.2 149.3L189.6 150.9L185.2 150.9zM202.0 149.3L206.3 149.3L206.8 150.9L202.5 150.9zM207.7 149.3L212.0 149.3L212.6 150.9L208.2 150.9zM46.7 151.8L51.1 151.8L50.2 153.5L45.8 153.5zM87.2 151.8L91.5 151.8L91.0 153.5L86.6 153.5zM110.3 151.8L114.6 151.8L114.3 153.5L109.9 153.5zM133.4 151.8L137.8 151.8L137.6 153.5L133.2 153.5zM144.9 151.8L149.3 151.8L149.3 153.5L144.9 153.5zM156.5 151.8L160.9 151.8L161.0 153.5L156.5 153.5zM33.6 154.4L38.1 154.4L37.1 156.1L32.6 156.1zM45.3 154.4L49.8 154.4L48.9 156.1L44.4 156.1zM86.3 154.4L90.8 154.4L90.2 156.1L85.7 156.1zM92.2 154.4L96.6 154.4L96.1 156.1L91.6 156.1zM109.7 154.4L114.2 154.4L113.8 156.1L109.4 156.1zM2.4 157.0L6.9 157.0L5.6 158.8L1.0 158.8zM49.8 157.0L54.4 157.0L53.5 158.8L48.9 158.8zM61.7 157.0L66.2 157.0L65.5 158.8L60.9 158.8zM97.3 157.0L101.8 157.0L101.4 158.8L96.8 158.8zM103.2 157.0L107.8 157.0L107.4 158.8L102.8 158.8zM127.0 157.0L131.5 157.0L131.3 158.8L126.8 158.8zM132.9 157.0L137.4 157.0L137.3 158.8L132.8 158.8zM180.4 157.0L184.9 157.0L185.2 158.8L180.7 158.8zM54.5 159.7L59.1 159.7L58.2 161.5L53.6 161.5zM66.5 159.7L71.1 159.7L70.4 161.5L65.8 161.5zM102.6 159.7L107.2 159.7L106.8 161.5L102.2 161.5zM114.6 159.7L119.2 159.7L118.9 161.5L114.3 161.5zM150.7 159.7L155.3 159.7L155.3 161.5L150.7 161.5zM168.8 159.7L173.3 159.7L173.5 161.5L168.9 161.5zM204.9 159.7L209.4 159.7L210.0 161.5L205.4 161.5zM126.3 162.5L131.0 162.5L130.8 164.3L126.1 164.3zM156.8 162.5L161.5 162.5L161.6 164.3L156.9 164.3zM162.9 162.5L167.6 162.5L167.7 164.3L163.1 164.3zM181.2 162.5L185.9 162.5L186.2 164.3L181.5 164.3zM2.3 165.3L7.0 165.3L5.7 167.2L0.9 167.2zM20.9 165.3L25.6 165.3L24.4 167.2L19.7 167.2zM88.9 165.3L93.6 165.3L93.1 167.2L88.3 167.2zM119.8 165.3L124.5 165.3L124.3 167.2L119.5 167.2zM169.3 165.3L174.0 165.3L174.2 167.2L169.5 167.2zM218.8 165.3L223.5 165.3L224.2 167.2L219.4 167.2zM56.7 168.2L61.4 168.2L60.6 170.2L55.8 170.2zM69.2 168.2L74.0 168.2L73.3 170.2L68.5 170.2zM119.4 168.2L124.2 168.2L123.9 170.2L119.1 170.2zM163.3 168.2L168.1 168.2L168.2 170.2L163.4 170.2zM213.5 168.2L218.2 168.2L218.9 170.2L214.1 170.2zM219.7 168.2L224.5 168.2L225.2 170.2L220.4 170.2zM80.8 171.2L85.6 171.2L85.0 173.3L80.1 173.3zM106.2 171.2L111.1 171.2L110.7 173.3L105.8 173.3zM157.1 171.2L162.0 171.2L162.1 173.3L157.2 173.3zM60.4 174.3L65.3 174.3L64.5 176.4L59.5 176.4zM125.0 174.3L129.9 174.3L129.7 176.4L124.7 176.4zM150.8 174.3L155.7 174.3L155.7 176.4L150.8 176.4zM32.9 177.5L37.9 177.5L36.7 179.6L31.7 179.6zM98.4 177.5L103.4 177.5L102.9 179.6L97.9 179.6zM104.9 177.5L109.9 177.5L109.5 179.6L104.5 179.6zM124.6 177.5L129.6 177.5L129.4 179.6L124.3 179.6zM163.9 177.5L168.9 177.5L169.0 179.6L164.0 179.6zM24.5 180.7L29.5 180.7L28.3 182.9L23.2 182.9zM71.0 180.7L76.1 180.7L75.3 182.9L70.2 182.9zM97.6 180.7L102.7 180.7L102.2 182.9L97.1 182.9zM117.6 180.7L122.6 180.7L122.3 182.9L117.2 182.9zM15.8 184.1L21.0 184.1L19.7 186.3L14.5 186.3zM56.3 184.1L61.5 184.1L60.6 186.3L55.4 186.3zM69.8 184.1L75.0 184.1L74.2 186.3L69.0 186.3zM110.3 184.1L115.4 184.1L115.1 186.3L109.9 186.3zM130.6 184.1L135.7 184.1L135.5 186.3L130.4 186.3zM144.1 184.1L149.2 184.1L149.2 186.3L144.0 186.3zM82.3 187.5L87.5 187.5L86.9 189.8L81.6 189.8zM89.2 187.5L94.4 187.5L93.8 189.8L88.5 189.8zM171.4 187.5L176.6 187.5L176.9 189.8L171.6 189.8zM185.1 187.5L190.3 187.5L190.7 189.8L185.4 189.8zM11.7 191.0L16.9 191.0L15.6 193.4L10.2 193.4zM60.4 191.0L65.7 191.0L64.8 193.4L59.4 193.4zM74.3 191.0L79.6 191.0L78.8 193.4L73.5 193.4zM150.8 191.0L156.1 191.0L156.2 193.4L150.8 193.4zM157.8 191.0L163.1 191.0L163.2 193.4L157.9 193.4zM206.5 191.0L211.8 191.0L212.4 193.4L207.1 193.4zM213.5 191.0L218.8 191.0L219.5 193.4L214.1 193.4zM9.5 194.7L14.8 194.7L13.4 197.2L8.0 197.2zM30.7 194.7L36.1 194.7L34.8 197.2L29.4 197.2zM94.3 194.7L99.7 194.7L99.1 197.2L93.7 197.2zM101.4 194.7L106.7 194.7L106.3 197.2L100.9 197.2zM172.1 194.7L177.4 194.7L177.7 197.2L172.3 197.2zM193.3 194.7L198.6 194.7L199.1 197.2L193.7 197.2zM93.4 198.4L98.9 198.4L98.3 201.0L92.8 201.0zM100.6 198.4L106.0 198.4L105.6 201.0L100.1 201.0zM107.8 198.4L113.2 198.4L112.8 201.0L107.3 201.0zM115.0 198.4L120.4 198.4L120.1 201.0L114.6 201.0zM136.5 198.4L142.0 198.4L141.9 201.0L136.4 201.0zM179.6 198.4L185.0 198.4L185.4 201.0L179.9 201.0zM194.0 198.4L199.4 198.4L199.9 201.0L194.4 201.0zM215.5 198.4L221.0 198.4L221.7 201.0L216.2 201.0zM-2.4 202.3L3.2 202.3L1.6 204.9L-4.0 204.9zM19.5 202.3L25.1 202.3L23.7 204.9L18.1 204.9zM48.7 202.3L54.2 202.3L53.2 204.9L47.6 204.9zM121.7 202.3L127.2 202.3L127.0 204.9L121.4 204.9zM172.8 202.3L178.3 202.3L178.6 204.9L173.0 204.9zM187.4 202.3L192.9 202.3L193.4 204.9L187.8 204.9zM202.0 202.3L207.5 202.3L208.1 204.9L202.5 204.9zM39.6 206.3L45.3 206.3L44.1 209.0L38.4 209.0zM195.4 206.3L201.0 206.3L201.6 209.0L195.9 209.0z" fill="#4b4d45"/>
<path d="M27 109 L38 108.2 L50 108.6 L58 109.5 L63 111 L63 117.5 L27 118.5 Z" fill="#d2d6da"/>
<path d="M30 115 L60 114 L61 117.5 L30 118.5 Z" fill="#a4aab0" opacity="0.5"/>
<rect x="120" y="111" width="100" height="10" fill="#5e5e58" opacity="0.5"/>
<path d="M104 130 Q108 127 118 127.3 Q128 127 132 129 Q128 132.5 116 132.5 Q106 132.5 104 130 Z" fill="#7c7e7e" opacity="0.85"/>
<ellipse cx="203" cy="116" rx="20" ry="4.5" fill="#706e66" opacity="0.7"/>
<path d="M93.5 119 L93 104 Q93 100 95.5 97 L100.5 92 Q102.5 90 106 90 L129.5 90 Q132.5 90 133.3 92.5 L135 100 L135 119 Z" fill="#e0e0de"/>
<path d="M93 104 Q93 100 95.5 97 L100.5 92 L104 91.5 L104 119 L93.5 118 Z" fill="#cacac8"/>
<path d="M105.5 92.3 L131.8 92.3 L133.8 101 L104.8 101 Z" fill="#25292e"/>
<rect x="101.4" y="102" width="3" height="7.5" fill="#a84242"/>
<rect x="113" y="105.5" width="13" height="3.2" fill="#c6c6c2"/>
<rect x="104.5" y="112" width="30.5" height="1" fill="#bcbcb8"/>
<path d="M86 118.5 L135 118.5 L135 124 L120 125 L92 124.5 L86 123 Z" fill="#1c1c1a"/>
<rect x="93.5" y="111" width="4.5" height="8" fill="#2a2a28"/>
<path d="M158 105 L162 97.5 Q164 96.5 168 96.5 L181 96.5 Q184 96.8 186.5 100 L190.5 104.5 Q192.3 107 192.3 111 L192 119 L158 119 Z" fill="#dcdcda"/>
<path d="M162.5 97.5 L181 97.5 Q183.5 98 186 101 L187.5 104 L160.5 104 Z" fill="#3c4450"/>
<rect x="159" y="108" width="33" height="1.6" fill="#3a3a3a" opacity="0.7"/>
<rect x="165" y="112" width="14" height="3" fill="#c4c4c2"/>
<path d="M158 118.5 L192 118.5 L191 124 L182 124 L181 121 L160 121 Z" fill="#262624"/>
<path d="M61 96.5 L74 96 Q78.5 97 78.5 103 L77.5 124 L56 124 L56 106 Q57 98 61 96.5 Z" fill="#0e0e0e"/>
<path d="M76.5 103 L81 101.5 L82.6 110 L82.6 124 L77.5 124 Z" fill="#8e8e8a" opacity="0.75"/>
<path d="M78 112 L82.6 111 L82.6 118 L78.5 119 Z" fill="#c8c8c4" opacity="0.8"/>
<path d="M58 124 L80 124 L81 156 L58 156 Z" fill="#252622"/>
<path d="M60 148 Q66 156 74 158 M66 147 Q72 152 80 153 M70 146 L75 156" stroke="#8a8a86" stroke-width="0.6" fill="none"/>
<rect x="64.5" y="92" width="8.5" height="6" fill="#303236"/>
<path d="M62.8 93 Q62.3 85.6 69 85.6 Q75.7 85.6 75.3 93 Z" fill="#bc8636"/>
<path d="M64 88 Q66 86.3 69 86.2 Q72 86.3 74 88" stroke="#d09a48" stroke-width="1" fill="none"/>
<path d="M142.5 98 L153.5 97.5 Q159.5 99 160.5 106 L162 124 L157 147 L139 147 L137 124 L137.5 106 Q138.5 99 142.5 98 Z" fill="#687080"/>
<path d="M139 104 L146 101 L150 106 L147 113 L140 114 Z" fill="#8a92a0" opacity="0.9"/>
<path d="M150 104 L156 101 L159.5 108 L156 112 L150 110 Z" fill="#7e8796" opacity="0.9"/>
<path d="M140 114 L158 111 L159 116 L141 119 Z" fill="#545b66" opacity="0.9"/>
<path d="M141 120 L156 118 L155 124 L142 124 Z" fill="#7c8594" opacity="0.8"/>
<path d="M144 96 L152 96 L152.5 104 L148 107 L144 104 Z" fill="#2a2b2e"/>
<path d="M145 147 L155 147 L157 154 L144 154 Z" fill="#2a2c30"/>
<path d="M140 153.5 L148 152.5 L148.5 158 L139.5 158 Z M150 152 L158 151.5 L159 156 L150 157 Z" fill="#c8c8c8"/>
<rect x="144" y="89.5" width="8.5" height="7" fill="#2e2c2a"/>
<path d="M143 91 Q142.7 84.8 148 84.8 Q153.3 84.8 153 91 Z" fill="#c8963e"/>
<path d="M144.3 87.2 Q146 85.6 148 85.6 Q150.5 85.6 152 87.2" stroke="#dcae5c" stroke-width="0.9" fill="none"/>
</g></g>
<path d="M54.2 84 V159.6 H83.2 V84" fill="none" stroke="#d83030" stroke-width="1"/>
<path d="M135.2 83 V161.6 H163.3 V83" fill="none" stroke="#d83030" stroke-width="1"/>
<rect x="53.5" y="69.9" width="63.8" height="14.95" fill="#cc0202"/>
<rect x="133.9" y="68.4" width="64.1" height="15.6" fill="#cc0202"/>
<text x="85.5" y="81.1" class="wl" textLength="43.6" lengthAdjust="spacingAndGlyphs">Worker 6</text>
<text x="166" y="79.8" class="wl" textLength="43.8" lengthAdjust="spacingAndGlyphs">Worker 1</text>
<circle cx="68.6" cy="122.2" r="1.3" fill="#ff1010"/>
<circle cx="148.8" cy="122.7" r="1.3" fill="#ff1010"/>
</g>
<rect x="54.5" y="124.2" width="28.9" height="11.3" fill="#fff"/><text x="68.95" y="133.80" class="sc" textLength="24.6" lengthAdjust="spacingAndGlyphs">1 : 0</text>
<rect x="53.2" y="134.9" width="31.7" height="11.5" fill="#fff"/><text x="69.05" y="144.40" class="sc" textLength="28" lengthAdjust="spacingAndGlyphs">72.3%</text>
<rect x="134.8" y="125.2" width="28.6" height="11.3" fill="#fff"/><text x="149.10" y="134.80" class="sc" textLength="24.6" lengthAdjust="spacingAndGlyphs">0 : 0</text>
<rect x="130.5" y="135.9" width="37.8" height="11.5" fill="#fff"/><text x="149.40" y="145.40" class="sc" textLength="35.3" lengthAdjust="spacingAndGlyphs">89.47%</text>
<g transform="translate(0,236)">
<clipPath id="cp236"><rect x="5" y="30" width="215" height="178.5"/></clipPath>
<g clip-path="url(#cp236)"><g filter="url(#soft)">
<rect x="5" y="30" width="82" height="85" fill="url(#sky)"/>
<rect x="5" y="82.7" width="18.3" height="10" fill="#e2d9b2"/>
<rect x="5" y="83" width="18.3" height="2.6" fill="#f3efd8"/>
<rect x="5" y="88.8" width="17" height="1.6" fill="#cbc29e"/>
<rect x="13.5" y="80.5" width="3" height="2.5" fill="#d8d2bc"/>
<path d="M5 92.5 L15 93 L25 93.3 L35 94.3 L45 95.5 L55 97 L63 99.5 L63 109.5 L5 109.5 Z" fill="url(#brown)"/>
<path d="M38 96 L63 99.5 L63 109.5 L38 109.5 Z" fill="#7c6c60" opacity="0.55"/>
<path d="M5 101 L63 103 L63 109.5 L5 109.5 Z" fill="#7a5f4a" opacity="0.5"/>
<rect x="9" y="94" width="0.7" height="14" fill="#5e4a3a" opacity="0.45"/>
<rect x="15" y="94" width="0.7" height="14" fill="#5e4a3a" opacity="0.45"/>
<rect x="21" y="94" width="0.7" height="14" fill="#5e4a3a" opacity="0.45"/>
<rect x="29" y="94" width="0.7" height="14" fill="#5e4a3a" opacity="0.45"/>
<rect x="35" y="94" width="0.7" height="14" fill="#5e4a3a" opacity="0.45"/>
<rect x="5" y="108.3" width="24" height="2.8" fill="#dad6ca"/>
<path d="M5 111 L28 111 L28 118 L5 118 Z" fill="#4a4c4a"/>
<rect x="23.2" y="65.8" width="3.2" height="13" fill="#a37a4c"/>
<rect x="23.2" y="65.8" width="0.8" height="13" fill="#c8a478"/>
<path d="M26 68 L58.5 93 M26.4 77.5 L59.5 96.4 M42.7 88.6 L62 95 M31 72 L30 78.5" stroke="#c2a882" stroke-width="0.9" fill="none"/>
<path d="M17 78.5 L27 78.5" stroke="#9a8470" stroke-width="0.7"/>
<rect x="40.1" y="86.6" width="1.4" height="26.5" fill="#6e6862"/>
<ellipse cx="71.5" cy="70.5" rx="5.3" ry="6.8" fill="#3a3c2c"/>
<ellipse cx="84" cy="69.5" rx="7.3" ry="9" fill="#25261f"/>
<rect x="66" y="71" width="26" height="48" fill="#22231d"/>
<path d="M86 36 L88 30 L105 30 L105 113 L86 113 Z" fill="url(#bside)"/>
<rect x="89" y="30" width="3.5" height="80" fill="#7c8088" opacity="0.7"/>
<rect x="97" y="30" width="1" height="80" fill="#8a8e96"/>
<rect x="83.5" y="62" width="2.5" height="2" fill="#70747a"/>
<rect x="105" y="30" width="110" height="84" fill="url(#facade)"/>
<rect x="105" y="30" width="103" height="84" fill="url(#facadeh)"/>
<path d="M111 32 L208 32" stroke="#c6b79e" stroke-width="0.7" opacity="0.6"/>
<path d="M111 35 L208 35" stroke="#c6b79e" stroke-width="0.7" opacity="0.6"/>
<path d="M111 38 L208 38" stroke="#c6b79e" stroke-width="0.7" opacity="0.6"/>
<path d="M111 41 L208 41" stroke="#c6b79e" stroke-width="0.7" opacity="0.6"/>
<path d="M111 44 L208 44" stroke="#c6b79e" stroke-width="0.7" opacity="0.6"/>
<path d="M111 47 L208 47" stroke="#c6b79e" stroke-width="0.7" opacity="0.6"/>
<path d="M111 50 L208 50" stroke="#c6b79e" stroke-width="0.7" opacity="0.6"/>
<path d="M111 53 L208 53" stroke="#c6b79e" stroke-width="0.7" opacity="0.6"/>
<path d="M111 56 L208 56" stroke="#c6b79e" stroke-width="0.7" opacity="0.6"/>
<path d="M111 59 L208 59" stroke="#c6b79e" stroke-width="0.7" opacity="0.6"/>
<path d="M111 62 L208 62" stroke="#c6b79e" stroke-width="0.7" opacity="0.6"/>
<path d="M111 65 L208 65" stroke="#c6b79e" stroke-width="0.7" opacity="0.6"/>
<path d="M111 68 L208 68" stroke="#c6b79e" stroke-width="0.7" opacity="0.6"/>
<path d="M111 71 L208 71" stroke="#c6b79e" stroke-width="0.7" opacity="0.6"/>
<path d="M111 74 L208 74" stroke="#c6b79e" stroke-width="0.7" opacity="0.6"/>
<path d="M111 77 L208 77" stroke="#c6b79e" stroke-width="0.7" opacity="0.6"/>
<path d="M111 80 L208 80" stroke="#c6b79e" stroke-width="0.7" opacity="0.6"/>
<path d="M111 83 L208 83" stroke="#c6b79e" stroke-width="0.7" opacity="0.6"/>
<path d="M111 86 L208 86" stroke="#c6b79e" stroke-width="0.7" opacity="0.6"/>
<path d="M111 89 L208 89" stroke="#c6b79e" stroke-width="0.7" opacity="0.6"/>
<path d="M111 92 L208 92" stroke="#c6b79e" stroke-width="0.7" opacity="0.6"/>
<path d="M111 95 L208 95" stroke="#c6b79e" stroke-width="0.7" opacity="0.6"/>
<path d="M111 98 L208 98" stroke="#c6b79e" stroke-width="0.7" opacity="0.6"/>
<rect x="105" y="30" width="3.5" height="84" fill="#e6dccb"/>
<rect x="208" y="30" width="12" height="84" fill="#e2d6bc"/>
<rect x="208" y="30" width="0.8" height="84" fill="#c8bca2"/>
<path d="M209 48 L220 48" stroke="#c2b6a2" stroke-width="0.6" opacity="0.5"/>
<path d="M209 51 L220 51" stroke="#c2b6a2" stroke-width="0.6" opacity="0.5"/>
<path d="M209 54 L220 54" stroke="#c2b6a2" stroke-width="0.6" opacity="0.5"/>
<path d="M209 57 L220 57" stroke="#c2b6a2" stroke-width="0.6" opacity="0.5"/>
<path d="M209 60 L220 60" stroke="#c2b6a2" stroke-width="0.6" opacity="0.5"/>
<path d="M209 63 L220 63" stroke="#c2b6a2" stroke-width="0.6" opacity="0.5"/>
<path d="M209 66 L220 66" stroke="#c2b6a2" stroke-width="0.6" opacity="0.5"/>
<path d="M209 69 L220 69" stroke="#c2b6a2" stroke-width="0.6" opacity="0.5"/>
<path d="M209 72 L220 72" stroke="#c2b6a2" stroke-width="0.6" opacity="0.5"/>
<path d="M209 75 L220 75" stroke="#c2b6a2" stroke-width="0.6" opacity="0.5"/>
<path d="M209 78 L220 78" stroke="#c2b6a2" stroke-width="0.6" opacity="0.5"/>
<path d="M209 81 L220 81" stroke="#c2b6a2" stroke-width="0.6" opacity="0.5"/>
<path d="M209 84 L220 84" stroke="#c2b6a2" stroke-width="0.6" opacity="0.5"/>
<path d="M209 87 L220 87" stroke="#c2b6a2" stroke-width="0.6" opacity="0.5"/>
<path d="M209 90 L220 90" stroke="#c2b6a2" stroke-width="0.6" opacity="0.5"/>
<path d="M209 93 L220 93" stroke="#c2b6a2" stroke-width="0.6" opacity="0.5"/>
<path d="M209 96 L220 96" stroke="#c2b6a2" stroke-width="0.6" opacity="0.5"/>
<path d="M209 99 L220 99" stroke="#c2b6a2" stroke-width="0.6" opacity="0.5"/>
<path d="M209 102 L220 102" stroke="#c2b6a2" stroke-width="0.6" opacity="0.5"/>
<path d="M209 105 L220 105" stroke="#c2b6a2" stroke-width="0.6" opacity="0.5"/>
<path d="M209 108 L220 108" stroke="#c2b6a2" stroke-width="0.6" opacity="0.5"/>
<path d="M209 111 L220 111" stroke="#c2b6a2" stroke-width="0.6" opacity="0.5"/>
<rect x="208.4" y="30" width="11.6" height="14.7" fill="#a08c64"/>
<rect x="211.8" y="30.5" width="7.8" height="13" fill="#3e3c30"/>
<rect x="214.5" y="31" width="1" height="12" fill="#55533f" opacity="0.8"/>
<path d="M198 71.5 L211 71.5 L214.5 81 L196.5 81 Z" fill="#aca494"/>
<path d="M198 71.5 L211 71.5 L212 74.5 L197.5 74.5 Z" fill="#ccc3b1"/>
<path d="M196.5 79.5 L214.5 79.5 L214.5 81.8 L196.5 81.8 Z" fill="#6e6860"/>
<rect x="160" y="83" width="27" height="18" fill="#cdc8bc"/>
<rect x="164" y="84" width="0.7" height="16" fill="#a8a498" opacity="0.6"/>
<rect x="169" y="84" width="0.7" height="16" fill="#a8a498" opacity="0.6"/>
<rect x="174" y="84" width="0.7" height="16" fill="#a8a498" opacity="0.6"/>
<rect x="179" y="84" width="0.7" height="16" fill="#a8a498" opacity="0.6"/>
<rect x="184" y="84" width="0.7" height="16" fill="#a8a498" opacity="0.6"/>
<rect x="186.5" y="81.5" width="27.5" height="31" fill="#2c2a27"/>
<rect x="188.5" y="84" width="7" height="6" fill="#6e6a62"/>
<rect x="189" y="91" width="6" height="5" fill="#8a857c"/>
<rect x="199.5" y="82.5" width="13" height="29" fill="#3c3b38"/>
<rect x="198.5" y="82.5" width="1" height="29" fill="#55524c"/>
<rect x="108.6" y="30" width="2" height="62" fill="#ad604a"/>
<rect x="114.8" y="35" width="1.8" height="56" fill="#d8d6d2"/>
<ellipse cx="115.7" cy="33.5" rx="2.3" ry="2.2" fill="#ecebe8"/>
<rect x="78" y="84" width="22" height="37" fill="#1e1f1b"/>
<rect x="84.5" y="84" width="1" height="36" fill="#5a5c5a"/>
<rect x="134" y="84" width="27" height="17" fill="#c2c0b8"/>
<ellipse cx="139" cy="73.5" rx="10" ry="7.5" fill="#4a4030"/>
<path d="M129 91 Q131 85 140 85.5 L157 85.5 Q163 86 162 91 Q158 94 150 93 L138 93 Q131 94 129 91 Z" fill="#4a3e2a"/>
<path d="M117 90 Q122 83 134 83.5 L134 90.5 Z" fill="#dedbd2"/>
<rect x="5" y="111" width="215" height="97.5" fill="url(#ground)"/>
<rect x="5" y="111" width="215" height="98" fill="url(#groundh)"/>
<path d="M3.6 112.5L7.1 112.5L6.0 113.6L2.5 113.6zM17.3 112.5L20.8 112.5L19.9 113.6L16.4 113.6zM21.9 112.5L25.4 112.5L24.5 113.6L21.0 113.6zM26.5 112.5L30.0 112.5L29.1 113.6L25.6 113.6zM31.1 112.5L34.6 112.5L33.8 113.6L30.3 113.6zM40.3 112.5L43.8 112.5L43.0 113.6L39.5 113.6zM67.9 112.5L71.4 112.5L70.8 113.6L67.3 113.6zM100.0 112.5L103.5 112.5L103.2 113.6L99.7 113.6zM39.1 114.2L42.6 114.2L41.8 115.3L38.3 115.3zM53.0 114.2L56.6 114.2L55.9 115.3L52.3 115.3zM62.3 114.2L65.8 114.2L65.2 115.3L61.7 115.3zM0.3 115.9L3.8 115.9L2.7 117.1L-0.9 117.1zM5.0 115.9L8.5 115.9L7.5 117.1L3.9 117.1zM9.7 115.9L13.2 115.9L12.2 117.1L8.6 117.1zM23.7 115.9L27.3 115.9L26.4 117.1L22.8 117.1zM28.4 115.9L32.0 115.9L31.1 117.1L27.5 117.1zM47.2 115.9L50.8 115.9L50.1 117.1L46.5 117.1zM51.9 115.9L55.5 115.9L54.8 117.1L51.2 117.1zM61.3 115.9L64.9 115.9L64.3 117.1L60.7 117.1zM164.7 115.9L168.2 115.9L168.4 117.1L164.8 117.1zM46.1 117.7L49.7 117.7L48.9 118.9L45.3 118.9zM79.3 117.7L82.9 117.7L82.4 118.9L78.8 118.9zM117.3 117.7L120.9 117.7L120.7 118.9L117.1 118.9zM25.7 119.5L29.3 119.5L28.4 120.7L24.7 120.7zM44.9 119.5L48.5 119.5L47.8 120.7L44.1 120.7zM64.1 119.5L67.7 119.5L67.1 120.7L63.4 120.7zM29.1 121.3L32.8 121.3L31.9 122.6L28.2 122.6zM33.9 121.3L37.6 121.3L36.8 122.6L33.1 122.6zM48.5 121.3L52.2 121.3L51.5 122.6L47.7 122.6zM58.2 121.3L61.9 121.3L61.3 122.6L57.5 122.6zM77.7 121.3L81.4 121.3L80.8 122.6L77.1 122.6zM87.4 121.3L91.1 121.3L90.6 122.6L86.9 122.6zM106.8 121.3L110.5 121.3L110.2 122.6L106.5 122.6zM126.3 121.3L130.0 121.3L129.8 122.6L126.1 122.6zM17.8 123.2L21.6 123.2L20.6 124.5L16.8 124.5zM91.6 123.2L95.3 123.2L94.9 124.5L91.1 124.5zM101.4 123.2L105.2 123.2L104.8 124.5L101.1 124.5zM31.2 125.1L35.0 125.1L34.1 126.4L30.3 126.4zM120.8 125.1L124.5 125.1L124.3 126.4L120.5 126.4zM24.8 127.1L28.6 127.1L27.6 128.4L23.8 128.4zM39.9 127.1L43.7 127.1L42.9 128.4L39.0 128.4zM105.3 127.1L109.1 127.1L108.8 128.4L105.0 128.4zM165.7 127.1L169.5 127.1L169.7 128.4L165.8 128.4zM28.4 129.1L32.2 129.1L31.3 130.5L27.4 130.5zM43.6 129.1L47.5 129.1L46.7 130.5L42.8 130.5zM48.7 129.1L52.6 129.1L51.8 130.5L47.9 130.5zM115.0 129.1L118.8 129.1L118.6 130.5L114.7 130.5zM1.1 131.2L5.0 131.2L3.9 132.5L-0.1 132.5zM11.4 131.2L15.3 131.2L14.3 132.5L10.3 132.5zM47.5 131.2L51.4 131.2L50.6 132.5L46.7 132.5zM73.3 131.2L77.2 131.2L76.6 132.5L72.7 132.5zM99.1 131.2L103.0 131.2L102.6 132.5L98.7 132.5zM4.5 133.2L8.5 133.2L7.3 134.7L3.3 134.7zM20.2 133.2L24.1 133.2L23.1 134.7L19.1 134.7zM35.8 133.2L39.8 133.2L38.9 134.7L34.9 134.7zM67.1 133.2L71.1 133.2L70.5 134.7L66.5 134.7zM82.8 133.2L86.8 133.2L86.2 134.7L82.2 134.7zM93.2 133.2L97.2 133.2L96.8 134.7L92.8 134.7zM108.9 133.2L112.8 133.2L112.5 134.7L108.5 134.7zM8.0 135.4L12.0 135.4L10.9 136.8L6.8 136.8zM45.0 135.4L49.0 135.4L48.2 136.8L44.1 136.8zM71.4 135.4L75.4 135.4L74.8 136.8L70.8 136.8zM76.7 135.4L80.7 135.4L80.1 136.8L76.1 136.8zM108.4 135.4L112.4 135.4L112.1 136.8L108.0 136.8zM150.6 135.4L154.6 135.4L154.7 136.8L150.6 136.8zM16.9 137.6L21.0 137.6L19.9 139.0L15.8 139.0zM38.3 137.6L42.4 137.6L41.5 139.0L37.4 139.0zM91.8 137.6L95.9 137.6L95.4 139.0L91.3 139.0zM102.5 137.6L106.6 137.6L106.2 139.0L102.1 139.0zM129.2 137.6L133.3 137.6L133.2 139.0L129.1 139.0zM74.8 139.8L78.9 139.8L78.3 141.3L74.2 141.3zM150.6 139.8L154.8 139.8L154.8 141.3L150.7 141.3zM2.6 142.1L6.7 142.1L5.5 143.6L1.3 143.6zM35.5 142.1L39.7 142.1L38.7 143.6L34.5 143.6zM46.5 142.1L50.6 142.1L49.8 143.6L45.6 143.6zM73.9 142.1L78.0 142.1L77.4 143.6L73.2 143.6zM139.7 142.1L143.9 142.1L143.8 143.6L139.6 143.6zM0.7 144.4L4.9 144.4L3.7 146.0L-0.6 146.0zM11.8 144.4L16.0 144.4L14.9 146.0L10.6 146.0zM84.0 144.4L88.2 144.4L87.7 146.0L83.4 146.0zM122.9 144.4L127.1 144.4L126.9 146.0L122.7 146.0zM71.9 146.8L76.2 146.8L75.5 148.4L71.2 148.4zM77.5 146.8L81.8 146.8L81.2 148.4L76.9 148.4zM13.9 149.3L18.2 149.3L17.0 150.9L12.7 150.9zM19.6 149.3L23.9 149.3L22.8 150.9L18.4 150.9zM42.4 149.3L46.7 149.3L45.8 150.9L41.4 150.9zM53.8 149.3L58.1 149.3L57.3 150.9L52.9 150.9zM59.5 149.3L63.8 149.3L63.0 150.9L58.7 150.9zM99.4 149.3L103.7 149.3L103.3 150.9L98.9 150.9zM127.9 149.3L132.2 149.3L132.1 150.9L127.7 150.9zM17.8 151.8L22.2 151.8L21.1 153.5L16.7 153.5zM23.6 151.8L28.0 151.8L26.9 153.5L22.5 153.5zM75.6 151.8L80.0 151.8L79.4 153.5L74.9 153.5zM81.4 151.8L85.8 151.8L85.2 153.5L80.8 153.5zM21.9 154.4L26.4 154.4L25.3 156.1L20.8 156.1zM39.5 154.4L43.9 154.4L43.0 156.1L38.5 156.1zM51.2 154.4L55.6 154.4L54.8 156.1L50.3 156.1zM57.0 154.4L61.5 154.4L60.7 156.1L56.2 156.1zM133.1 154.4L137.6 154.4L137.5 156.1L133.0 156.1zM14.2 157.0L18.8 157.0L17.6 158.8L13.0 158.8zM38.0 157.0L42.5 157.0L41.5 158.8L37.0 158.8zM55.8 157.0L60.3 157.0L59.5 158.8L54.9 158.8zM18.4 159.7L23.0 159.7L21.8 161.5L17.2 161.5zM48.5 159.7L53.0 159.7L52.1 161.5L47.5 161.5zM60.5 159.7L65.1 159.7L64.3 161.5L59.7 161.5zM78.5 159.7L83.1 159.7L82.5 161.5L77.9 161.5zM16.6 162.5L21.2 162.5L20.0 164.3L15.3 164.3zM53.2 162.5L57.8 162.5L56.9 164.3L52.3 164.3zM27.1 165.3L31.8 165.3L30.6 167.2L25.9 167.2zM33.2 165.3L37.9 165.3L36.9 167.2L32.2 167.2zM39.4 165.3L44.1 165.3L43.1 167.2L38.4 167.2zM51.8 165.3L56.5 165.3L55.6 167.2L50.9 167.2zM70.3 165.3L75.0 165.3L74.3 167.2L69.6 167.2zM0.2 168.2L5.0 168.2L3.6 170.2L-1.2 170.2zM19.0 168.2L23.8 168.2L22.6 170.2L17.8 170.2zM62.9 168.2L67.7 168.2L66.9 170.2L62.1 170.2zM81.8 168.2L86.5 168.2L85.9 170.2L81.1 170.2zM100.6 168.2L105.3 168.2L104.9 170.2L100.1 170.2zM42.6 171.2L47.4 171.2L46.4 173.3L41.6 173.3zM61.7 171.2L66.5 171.2L65.7 173.3L60.8 173.3zM15.2 174.3L20.1 174.3L18.9 176.4L13.9 176.4zM47.5 174.3L52.4 174.3L51.4 176.4L46.5 176.4zM53.9 174.3L58.9 174.3L58.0 176.4L53.0 176.4zM19.8 177.5L24.8 177.5L23.5 179.6L18.5 179.6zM39.4 177.5L44.4 177.5L43.4 179.6L38.3 179.6zM78.7 177.5L83.7 177.5L83.1 179.6L78.0 179.6zM85.3 177.5L90.3 177.5L89.7 179.6L84.6 179.6zM111.5 177.5L116.5 177.5L116.1 179.6L111.1 179.6zM131.1 177.5L136.1 177.5L136.0 179.6L131.0 179.6zM31.1 180.7L36.2 180.7L35.0 182.9L29.9 182.9zM36.1 184.1L41.2 184.1L40.1 186.3L34.9 186.3zM63.1 184.1L68.2 184.1L67.4 186.3L62.2 186.3zM103.6 184.1L108.7 184.1L108.3 186.3L103.1 186.3zM6.9 187.5L12.1 187.5L10.7 189.8L5.5 189.8zM20.6 187.5L25.8 187.5L24.6 189.8L19.3 189.8zM54.9 187.5L60.1 187.5L59.2 189.8L53.9 189.8zM116.6 187.5L121.8 187.5L121.5 189.8L116.2 189.8zM130.3 187.5L135.5 187.5L135.3 189.8L130.1 189.8zM25.6 191.0L30.9 191.0L29.6 193.4L24.3 193.4zM81.2 191.0L86.5 191.0L85.9 193.4L80.5 193.4zM130.0 191.0L135.2 191.0L135.1 193.4L129.8 193.4zM164.8 191.0L170.0 191.0L170.2 193.4L164.9 193.4zM23.6 194.7L29.0 194.7L27.7 197.2L22.3 197.2zM37.7 194.7L43.1 194.7L42.0 197.2L36.6 197.2zM73.1 194.7L78.5 194.7L77.7 197.2L72.3 197.2zM21.6 198.4L27.0 198.4L25.7 201.0L20.2 201.0zM43.1 198.4L48.6 198.4L47.5 201.0L42.0 201.0zM86.2 198.4L91.7 198.4L91.1 201.0L85.5 201.0zM56.0 202.3L61.5 202.3L60.6 204.9L55.0 204.9zM77.9 202.3L83.4 202.3L82.7 204.9L77.1 204.9zM92.5 202.3L98.0 202.3L97.5 204.9L91.9 204.9zM136.3 202.3L141.8 202.3L141.7 204.9L136.1 204.9zM136.1 206.3L141.7 206.3L141.6 209.0L135.9 209.0z" fill="#6e7067"/>
<path d="M12.8 112.5L16.2 112.5L15.3 113.6L11.7 113.6zM72.5 112.5L76.0 112.5L75.4 113.6L71.9 113.6zM81.7 112.5L85.1 112.5L84.7 113.6L81.1 113.6zM15.9 114.2L19.4 114.2L18.4 115.3L14.9 115.3zM20.5 114.2L24.0 114.2L23.1 115.3L19.5 115.3zM48.4 114.2L51.9 114.2L51.2 115.3L47.6 115.3zM57.7 114.2L61.2 114.2L60.5 115.3L57.0 115.3zM71.6 114.2L75.1 114.2L74.6 115.3L71.0 115.3zM94.8 114.2L98.4 114.2L98.0 115.3L94.4 115.3zM113.4 114.2L116.9 114.2L116.7 115.3L113.1 115.3zM118.0 114.2L121.6 114.2L121.4 115.3L117.8 115.3zM136.6 114.2L140.2 114.2L140.1 115.3L136.5 115.3zM206.3 114.2L209.8 114.2L210.3 115.3L206.7 115.3zM33.1 115.9L36.7 115.9L35.9 117.1L32.3 117.1zM42.5 115.9L46.1 115.9L45.3 117.1L41.7 117.1zM75.4 115.9L79.0 115.9L78.5 117.1L74.9 117.1zM80.1 115.9L83.7 115.9L83.2 117.1L79.6 117.1zM98.9 115.9L102.5 115.9L102.1 117.1L98.5 117.1zM3.3 117.7L6.9 117.7L5.8 118.9L2.2 118.9zM17.6 117.7L21.2 117.7L20.2 118.9L16.6 118.9zM27.1 117.7L30.7 117.7L29.8 118.9L26.1 118.9zM55.6 117.7L59.2 117.7L58.5 118.9L54.9 118.9zM65.1 117.7L68.7 117.7L68.1 118.9L64.4 118.9zM20.9 119.5L24.5 119.5L23.5 120.7L19.9 120.7zM35.3 119.5L38.9 119.5L38.1 120.7L34.4 120.7zM49.7 119.5L53.3 119.5L52.6 120.7L48.9 120.7zM59.3 119.5L62.9 119.5L62.3 120.7L58.6 120.7zM169.8 119.5L173.4 119.5L173.6 120.7L169.9 120.7zM179.4 119.5L183.1 119.5L183.3 120.7L179.6 120.7zM9.6 121.3L13.3 121.3L12.3 122.6L8.6 122.6zM24.2 121.3L27.9 121.3L27.0 122.6L23.3 122.6zM43.7 121.3L47.4 121.3L46.6 122.6L42.8 122.6zM53.4 121.3L57.1 121.3L56.4 122.6L52.6 122.6zM204.0 121.3L207.7 121.3L208.2 122.6L204.5 122.6zM208.9 121.3L212.6 121.3L213.1 122.6L209.4 122.6zM8.0 123.2L11.7 123.2L10.7 124.5L6.9 124.5zM12.9 123.2L16.7 123.2L15.6 124.5L11.9 124.5zM22.8 123.2L26.5 123.2L25.5 124.5L21.8 124.5zM32.6 123.2L36.3 123.2L35.4 124.5L31.7 124.5zM42.4 123.2L46.2 123.2L45.4 124.5L41.6 124.5zM47.3 123.2L51.1 123.2L50.3 124.5L46.5 124.5zM57.2 123.2L60.9 123.2L60.2 124.5L56.5 124.5zM86.7 123.2L90.4 123.2L89.9 124.5L86.2 124.5zM121.1 123.2L124.8 123.2L124.6 124.5L120.9 124.5zM204.7 123.2L208.4 123.2L208.9 124.5L205.1 124.5zM214.5 123.2L218.2 123.2L218.8 124.5L215.0 124.5zM1.4 125.1L5.1 125.1L4.0 126.4L0.2 126.4zM41.2 125.1L44.9 125.1L44.1 126.4L40.3 126.4zM76.0 125.1L79.8 125.1L79.2 126.4L75.4 126.4zM125.7 125.1L129.5 125.1L129.3 126.4L125.5 126.4zM195.4 125.1L199.1 125.1L199.5 126.4L195.7 126.4zM-0.4 127.1L3.4 127.1L2.3 128.4L-1.6 128.4zM34.8 127.1L38.7 127.1L37.8 128.4L33.9 128.4zM44.9 127.1L48.7 127.1L47.9 128.4L44.1 128.4zM60.0 127.1L63.8 127.1L63.1 128.4L59.3 128.4zM65.0 127.1L68.9 127.1L68.2 128.4L64.4 128.4zM85.2 127.1L89.0 127.1L88.5 128.4L84.7 128.4zM8.0 129.1L11.9 129.1L10.8 130.5L6.9 130.5zM23.3 129.1L27.1 129.1L26.2 130.5L22.3 130.5zM125.1 129.1L129.0 129.1L128.8 130.5L124.9 130.5zM6.3 131.2L10.2 131.2L9.1 132.5L5.1 132.5zM16.6 131.2L20.5 131.2L19.5 132.5L15.5 132.5zM32.0 131.2L36.0 131.2L35.0 132.5L31.1 132.5zM42.4 131.2L46.3 131.2L45.4 132.5L41.5 132.5zM57.8 131.2L61.7 131.2L61.0 132.5L57.1 132.5zM78.4 131.2L82.4 131.2L81.8 132.5L77.9 132.5zM124.8 131.2L128.8 131.2L128.6 132.5L124.6 132.5zM155.8 131.2L159.7 131.2L159.8 132.5L155.8 132.5zM46.3 133.2L50.2 133.2L49.4 134.7L45.4 134.7zM88.0 133.2L92.0 133.2L91.5 134.7L87.5 134.7zM114.1 133.2L118.1 133.2L117.8 134.7L113.8 134.7zM13.3 135.4L17.3 135.4L16.2 136.8L12.2 136.8zM60.8 135.4L64.8 135.4L64.1 136.8L60.1 136.8zM66.1 135.4L70.1 135.4L69.5 136.8L65.4 136.8zM92.5 135.4L96.5 135.4L96.1 136.8L92.1 136.8zM124.2 135.4L128.2 135.4L128.1 136.8L124.0 136.8zM134.8 135.4L138.8 135.4L138.7 136.8L134.7 136.8zM43.7 137.6L47.7 137.6L46.9 139.0L42.8 139.0zM81.1 137.6L85.2 137.6L84.6 139.0L80.5 139.0zM107.9 137.6L111.9 137.6L111.6 139.0L107.5 139.0zM134.6 137.6L138.7 137.6L138.6 139.0L134.5 139.0zM150.6 137.6L154.7 137.6L154.7 139.0L150.6 139.0zM15.3 139.8L19.4 139.8L18.3 141.3L14.1 141.3zM47.8 139.8L51.9 139.8L51.0 141.3L46.9 141.3zM69.4 139.8L73.5 139.8L72.9 141.3L68.7 141.3zM101.9 139.8L106.0 139.8L105.7 141.3L101.5 141.3zM129.0 139.8L133.1 139.8L133.0 141.3L128.8 141.3zM134.4 139.8L138.5 139.8L138.4 141.3L134.3 141.3zM166.9 139.8L171.0 139.8L171.2 141.3L167.0 141.3zM188.6 139.8L192.7 139.8L193.0 141.3L188.9 141.3zM210.2 139.8L214.3 139.8L214.9 141.3L210.7 141.3zM13.5 142.1L17.7 142.1L16.6 143.6L12.4 143.6zM19.0 142.1L23.2 142.1L22.1 143.6L17.9 143.6zM95.8 142.1L100.0 142.1L99.6 143.6L95.4 143.6zM101.3 142.1L105.5 142.1L105.1 143.6L100.9 143.6zM106.8 142.1L111.0 142.1L110.6 143.6L106.4 143.6zM123.2 142.1L127.4 142.1L127.2 143.6L123.0 143.6zM6.2 144.4L10.5 144.4L9.3 146.0L5.0 146.0zM28.5 144.4L32.7 144.4L31.7 146.0L27.4 146.0zM45.1 144.4L49.3 144.4L48.5 146.0L44.2 146.0zM61.8 144.4L66.0 144.4L65.3 146.0L61.0 146.0zM117.3 144.4L121.6 144.4L121.3 146.0L117.1 146.0zM134.0 144.4L138.2 144.4L138.1 146.0L133.9 146.0zM26.9 146.8L31.2 146.8L30.1 148.4L25.8 148.4zM49.4 146.8L53.7 146.8L52.8 148.4L48.5 148.4zM60.6 146.8L64.9 146.8L64.2 148.4L59.9 148.4zM105.7 146.8L109.9 146.8L109.6 148.4L105.3 148.4zM8.2 149.3L12.5 149.3L11.3 150.9L6.9 150.9zM31.0 149.3L35.3 149.3L34.3 150.9L29.9 150.9zM65.2 149.3L69.5 149.3L68.8 150.9L64.4 150.9zM0.5 151.8L4.9 151.8L3.6 153.5L-0.8 153.5zM6.3 151.8L10.7 151.8L9.4 153.5L5.0 153.5zM150.7 151.8L155.1 151.8L155.1 153.5L150.7 153.5zM4.4 154.4L8.8 154.4L7.5 156.1L3.1 156.1zM10.2 154.4L14.7 154.4L13.4 156.1L9.0 156.1zM16.1 154.4L20.5 154.4L19.3 156.1L14.9 156.1zM27.8 154.4L32.2 154.4L31.2 156.1L26.7 156.1zM127.3 154.4L131.7 154.4L131.6 156.1L127.1 156.1zM174.1 154.4L178.6 154.4L178.8 156.1L174.3 156.1zM203.4 154.4L207.8 154.4L208.4 156.1L203.9 156.1zM8.3 157.0L12.8 157.0L11.6 158.8L7.0 158.8zM20.2 157.0L24.7 157.0L23.5 158.8L19.0 158.8zM32.0 157.0L36.6 157.0L35.5 158.8L31.0 158.8zM73.6 157.0L78.1 157.0L77.4 158.8L72.9 158.8zM91.4 157.0L95.9 157.0L95.4 158.8L90.9 158.8zM109.2 157.0L113.7 157.0L113.4 158.8L108.8 158.8zM186.3 157.0L190.8 157.0L191.2 158.8L186.6 158.8zM0.4 159.7L4.9 159.7L3.6 161.5L-1.0 161.5zM6.4 159.7L10.9 159.7L9.7 161.5L5.1 161.5zM12.4 159.7L17.0 159.7L15.7 161.5L11.1 161.5zM24.4 159.7L29.0 159.7L27.9 161.5L23.3 161.5zM30.4 159.7L35.0 159.7L33.9 161.5L29.3 161.5zM36.4 159.7L41.0 159.7L40.0 161.5L35.4 161.5zM84.6 159.7L89.1 159.7L88.6 161.5L84.0 161.5zM96.6 159.7L101.2 159.7L100.7 161.5L96.1 161.5zM120.6 159.7L125.2 159.7L125.0 161.5L120.4 161.5zM156.7 159.7L161.3 159.7L161.4 161.5L156.8 161.5zM10.5 162.5L15.1 162.5L13.8 164.3L9.2 164.3zM22.7 162.5L27.3 162.5L26.2 164.3L21.5 164.3zM34.9 162.5L39.5 162.5L38.5 164.3L33.8 164.3zM47.1 162.5L51.7 162.5L50.8 164.3L46.1 164.3zM65.4 162.5L70.0 162.5L69.2 164.3L64.6 164.3zM89.7 162.5L94.4 162.5L93.9 164.3L89.2 164.3zM8.5 165.3L13.2 165.3L11.9 167.2L7.2 167.2zM14.7 165.3L19.4 165.3L18.2 167.2L13.4 167.2zM45.6 165.3L50.3 165.3L49.4 167.2L44.6 167.2zM58.0 165.3L62.7 165.3L61.9 167.2L57.1 167.2zM82.7 165.3L87.4 165.3L86.8 167.2L82.1 167.2zM6.5 168.2L11.3 168.2L9.9 170.2L5.1 170.2zM12.8 168.2L17.5 168.2L16.3 170.2L11.5 170.2zM37.9 168.2L42.6 168.2L41.6 170.2L36.8 170.2zM88.0 168.2L92.8 168.2L92.3 170.2L87.4 170.2zM4.4 171.2L9.3 171.2L7.9 173.3L3.0 173.3zM10.8 171.2L15.6 171.2L14.3 173.3L9.5 173.3zM23.5 171.2L28.4 171.2L27.2 173.3L22.3 173.3zM29.9 171.2L34.7 171.2L33.6 173.3L28.7 173.3zM36.2 171.2L41.1 171.2L40.0 173.3L35.2 173.3zM55.3 171.2L60.2 171.2L59.3 173.3L54.4 173.3zM68.1 171.2L72.9 171.2L72.1 173.3L67.3 173.3zM21.7 174.3L26.6 174.3L25.4 176.4L20.4 176.4zM28.1 174.3L33.0 174.3L31.9 176.4L26.9 176.4zM34.6 174.3L39.5 174.3L38.4 176.4L33.5 176.4zM66.9 174.3L71.8 174.3L71.0 176.4L66.1 176.4zM144.3 174.3L149.2 174.3L149.2 176.4L144.3 176.4zM0.1 177.5L5.1 177.5L3.7 179.6L-1.3 179.6zM13.2 177.5L18.2 177.5L16.9 179.6L11.9 179.6zM46.0 177.5L51.0 177.5L50.0 179.6L45.0 179.6zM65.6 177.5L70.6 177.5L69.8 179.6L64.8 179.6zM72.2 177.5L77.2 177.5L76.4 179.6L71.4 179.6zM209.7 177.5L214.7 177.5L215.4 179.6L210.3 179.6zM11.2 180.7L16.2 180.7L14.9 182.9L9.8 182.9zM37.8 180.7L42.8 180.7L41.8 182.9L36.7 182.9zM44.4 180.7L49.5 180.7L48.5 182.9L43.4 182.9zM51.1 180.7L56.1 180.7L55.2 182.9L50.1 182.9zM57.7 180.7L62.8 180.7L61.9 182.9L56.8 182.9zM64.4 180.7L69.4 180.7L68.6 182.9L63.5 182.9zM91.0 180.7L96.0 180.7L95.5 182.9L90.4 182.9zM204.0 180.7L209.0 180.7L209.6 182.9L204.5 182.9zM76.6 184.1L81.7 184.1L81.0 186.3L75.8 186.3zM90.1 184.1L95.2 184.1L94.6 186.3L89.5 186.3zM0.1 187.5L5.3 187.5L3.8 189.8L-1.5 189.8zM41.2 187.5L46.4 187.5L45.3 189.8L40.1 189.8zM48.0 187.5L53.2 187.5L52.2 189.8L47.0 189.8zM75.4 187.5L80.7 187.5L79.9 189.8L74.7 189.8zM123.4 187.5L128.6 187.5L128.4 189.8L123.1 189.8zM4.7 191.0L10.0 191.0L8.5 193.4L3.2 193.4zM32.5 191.0L37.8 191.0L36.6 193.4L31.3 193.4zM109.1 191.0L114.4 191.0L114.0 193.4L108.7 193.4zM123.0 191.0L128.3 191.0L128.1 193.4L122.7 193.4zM143.9 191.0L149.2 191.0L149.2 193.4L143.8 193.4zM2.4 194.7L7.8 194.7L6.3 197.2L0.8 197.2zM16.5 194.7L21.9 194.7L20.6 197.2L15.1 197.2zM51.9 194.7L57.3 194.7L56.3 197.2L50.9 197.2zM59.0 194.7L64.3 194.7L63.4 197.2L58.0 197.2zM80.2 194.7L85.5 194.7L84.8 197.2L79.4 197.2zM115.5 194.7L120.9 194.7L120.6 197.2L115.1 197.2zM122.6 194.7L127.9 194.7L127.7 197.2L122.3 197.2zM129.6 194.7L135.0 194.7L134.9 197.2L129.4 197.2zM157.9 194.7L163.3 194.7L163.4 197.2L158.0 197.2zM207.4 194.7L212.8 194.7L213.4 197.2L208.0 197.2zM0.0 198.4L5.5 198.4L3.9 201.0L-1.6 201.0zM14.4 198.4L19.9 198.4L18.5 201.0L13.0 201.0zM50.3 198.4L55.8 198.4L54.8 201.0L49.3 201.0zM57.5 198.4L63.0 198.4L62.0 201.0L56.5 201.0zM64.7 198.4L70.1 198.4L69.3 201.0L63.8 201.0zM158.0 198.4L163.5 198.4L163.6 201.0L158.1 201.0zM4.9 202.3L10.5 202.3L8.9 204.9L3.3 204.9zM12.2 202.3L17.8 202.3L16.3 204.9L10.7 204.9zM34.1 202.3L39.6 202.3L38.4 204.9L32.8 204.9zM41.4 202.3L46.9 202.3L45.8 204.9L40.2 204.9zM63.3 202.3L68.8 202.3L68.0 204.9L62.4 204.9zM107.1 202.3L112.6 202.3L112.2 204.9L106.6 204.9zM158.2 202.3L163.7 202.3L163.9 204.9L158.3 204.9zM2.5 206.3L8.2 206.3L6.6 209.0L0.9 209.0zM9.9 206.3L15.6 206.3L14.1 209.0L8.4 209.0zM24.8 206.3L30.4 206.3L29.1 209.0L23.4 209.0zM32.2 206.3L37.8 206.3L36.6 209.0L30.9 209.0zM76.7 206.3L82.3 206.3L81.6 209.0L75.9 209.0zM99.0 206.3L104.6 206.3L104.1 209.0L98.4 209.0zM113.8 206.3L119.4 206.3L119.1 209.0L113.4 209.0zM121.2 206.3L126.9 206.3L126.6 209.0L120.9 209.0z" fill="#5e6057"/>
<path d="M58.7 112.5L62.2 112.5L61.5 113.6L58.0 113.6zM63.3 112.5L66.8 112.5L66.2 113.6L62.6 113.6zM104.6 112.5L108.1 112.5L107.8 113.6L104.3 113.6zM173.5 112.5L177.0 112.5L177.2 113.6L173.7 113.6zM191.9 112.5L195.4 112.5L195.7 113.6L192.2 113.6zM6.6 114.2L10.1 114.2L9.1 115.3L5.5 115.3zM67.0 114.2L70.5 114.2L69.9 115.3L66.3 115.3zM173.8 114.2L177.3 114.2L177.5 115.3L174.0 115.3zM201.6 114.2L205.2 114.2L205.6 115.3L202.0 115.3zM103.6 115.9L107.2 115.9L106.8 117.1L103.3 117.1zM122.4 115.9L126.0 115.9L125.8 117.1L122.2 117.1zM84.1 117.7L87.7 117.7L87.2 118.9L83.6 118.9zM93.6 117.7L97.2 117.7L96.8 118.9L93.1 118.9zM184.2 119.5L187.9 119.5L188.1 120.7L184.5 120.7zM4.8 121.3L8.5 121.3L7.4 122.6L3.7 122.6zM82.5 121.3L86.2 121.3L85.7 122.6L82.0 122.6zM140.9 121.3L144.6 121.3L144.5 122.6L140.8 122.6zM155.4 121.3L159.1 121.3L159.2 122.6L155.5 122.6zM160.3 121.3L164.0 121.3L164.1 122.6L160.4 122.6zM71.9 123.2L75.7 123.2L75.1 124.5L71.3 124.5zM96.5 123.2L100.2 123.2L99.9 124.5L96.1 124.5zM106.3 123.2L110.1 123.2L109.8 124.5L106.0 124.5zM135.8 123.2L139.6 123.2L139.5 124.5L135.7 124.5zM180.1 123.2L183.8 123.2L184.1 124.5L180.3 124.5zM209.6 123.2L213.3 123.2L213.8 124.5L210.1 124.5zM51.1 125.1L54.9 125.1L54.1 126.4L50.3 126.4zM130.7 125.1L134.5 125.1L134.4 126.4L130.6 126.4zM160.5 125.1L164.3 125.1L164.4 126.4L160.6 126.4zM185.4 125.1L189.2 125.1L189.5 126.4L185.7 126.4zM29.8 127.1L33.6 127.1L32.7 128.4L28.9 128.4zM70.1 127.1L73.9 127.1L73.3 128.4L69.4 128.4zM75.1 127.1L78.9 127.1L78.4 128.4L74.5 128.4zM115.4 127.1L119.2 127.1L118.9 128.4L115.1 128.4zM120.4 127.1L124.2 127.1L124.0 128.4L120.2 128.4zM130.5 127.1L134.3 127.1L134.2 128.4L130.3 128.4zM206.0 127.1L209.8 127.1L210.3 128.4L206.4 128.4zM216.0 127.1L219.9 127.1L220.4 128.4L216.6 128.4zM13.1 129.1L17.0 129.1L15.9 130.5L12.0 130.5zM33.5 129.1L37.3 129.1L36.4 130.5L32.5 130.5zM38.6 129.1L42.4 129.1L41.6 130.5L37.7 130.5zM53.8 129.1L57.7 129.1L57.0 130.5L53.1 130.5zM94.6 129.1L98.5 129.1L98.0 130.5L94.1 130.5zM83.6 131.2L87.5 131.2L87.0 132.5L83.1 132.5zM202.2 131.2L206.1 131.2L206.5 132.5L202.6 132.5zM9.7 133.2L13.7 133.2L12.6 134.7L8.6 134.7zM51.5 133.2L55.4 133.2L54.7 134.7L50.7 134.7zM72.4 133.2L76.3 133.2L75.7 134.7L71.7 134.7zM124.5 133.2L128.5 133.2L128.3 134.7L124.3 134.7zM140.2 133.2L144.2 133.2L144.1 134.7L140.1 134.7zM2.7 135.4L6.7 135.4L5.6 136.8L1.5 136.8zM82.0 135.4L86.0 135.4L85.4 136.8L81.4 136.8zM87.2 135.4L91.3 135.4L90.8 136.8L86.7 136.8zM118.9 135.4L123.0 135.4L122.7 136.8L118.7 136.8zM155.9 135.4L159.9 135.4L160.0 136.8L156.0 136.8zM219.3 135.4L223.3 135.4L223.9 136.8L219.9 136.8zM54.4 137.6L58.4 137.6L57.7 139.0L53.6 139.0zM86.5 137.6L90.5 137.6L90.0 139.0L85.9 139.0zM113.2 137.6L117.3 137.6L117.0 139.0L112.9 139.0zM182.7 137.6L186.8 137.6L187.1 139.0L183.0 139.0zM4.4 139.8L8.5 139.8L7.4 141.3L3.2 141.3zM31.5 139.8L35.6 139.8L34.7 141.3L30.5 141.3zM96.5 139.8L100.6 139.8L100.2 141.3L96.0 141.3zM118.2 139.8L122.3 139.8L122.0 141.3L117.9 141.3zM139.8 139.8L143.9 139.8L143.9 141.3L139.7 141.3zM57.4 142.1L61.6 142.1L60.8 143.6L56.6 143.6zM62.9 142.1L67.1 142.1L66.4 143.6L62.2 143.6zM161.6 142.1L165.8 142.1L165.9 143.6L161.7 143.6zM17.3 144.4L21.6 144.4L20.5 146.0L16.2 146.0zM39.6 144.4L43.8 144.4L42.9 146.0L38.6 146.0zM72.9 144.4L77.1 144.4L76.5 146.0L72.2 146.0zM100.7 144.4L104.9 144.4L104.5 146.0L100.3 146.0zM145.1 144.4L149.3 144.4L149.3 146.0L145.1 146.0zM150.7 144.4L154.9 144.4L154.9 146.0L150.7 146.0zM167.3 144.4L171.6 144.4L171.7 146.0L167.5 146.0zM184.0 144.4L188.2 144.4L188.5 146.0L184.3 146.0zM15.6 146.8L19.9 146.8L18.8 148.4L14.5 148.4zM38.1 146.8L42.4 146.8L41.5 148.4L37.2 148.4zM43.8 146.8L48.0 146.8L47.2 148.4L42.8 148.4zM100.0 146.8L104.3 146.8L103.9 148.4L99.6 148.4zM116.9 146.8L121.2 146.8L120.9 148.4L116.6 148.4zM139.4 146.8L143.7 146.8L143.6 148.4L139.3 148.4zM206.9 146.8L211.2 146.8L211.7 148.4L207.4 148.4zM82.3 149.3L86.6 149.3L86.0 150.9L81.7 150.9zM93.7 149.3L98.0 149.3L97.5 150.9L93.2 150.9zM105.1 149.3L109.4 149.3L109.1 150.9L104.7 150.9zM184.9 149.3L189.2 149.3L189.6 150.9L185.2 150.9zM202.0 149.3L206.3 149.3L206.8 150.9L202.5 150.9zM207.7 149.3L212.0 149.3L212.6 150.9L208.2 150.9zM46.7 151.8L51.1 151.8L50.2 153.5L45.8 153.5zM87.2 151.8L91.5 151.8L91.0 153.5L86.6 153.5zM110.3 151.8L114.6 151.8L114.3 153.5L109.9 153.5zM133.4 151.8L137.8 151.8L137.6 153.5L133.2 153.5zM144.9 151.8L149.3 151.8L149.3 153.5L144.9 153.5zM156.5 151.8L160.9 151.8L161.0 153.5L156.5 153.5zM33.6 154.4L38.1 154.4L37.1 156.1L32.6 156.1zM45.3 154.4L49.8 154.4L48.9 156.1L44.4 156.1zM86.3 154.4L90.8 154.4L90.2 156.1L85.7 156.1zM92.2 154.4L96.6 154.4L96.1 156.1L91.6 156.1zM109.7 154.4L114.2 154.4L113.8 156.1L109.4 156.1zM2.4 157.0L6.9 157.0L5.6 158.8L1.0 158.8zM49.8 157.0L54.4 157.0L53.5 158.8L48.9 158.8zM61.7 157.0L66.2 157.0L65.5 158.8L60.9 158.8zM97.3 157.0L101.8 157.0L101.4 158.8L96.8 158.8zM103.2 157.0L107.8 157.0L107.4 158.8L102.8 158.8zM127.0 157.0L131.5 157.0L131.3 158.8L126.8 158.8zM132.9 157.0L137.4 157.0L137.3 158.8L132.8 158.8zM180.4 157.0L184.9 157.0L185.2 158.8L180.7 158.8zM54.5 159.7L59.1 159.7L58.2 161.5L53.6 161.5zM66.5 159.7L71.1 159.7L70.4 161.5L65.8 161.5zM102.6 159.7L107.2 159.7L106.8 161.5L102.2 161.5zM114.6 159.7L119.2 159.7L118.9 161.5L114.3 161.5zM150.7 159.7L155.3 159.7L155.3 161.5L150.7 161.5zM168.8 159.7L173.3 159.7L173.5 161.5L168.9 161.5zM204.9 159.7L209.4 159.7L210.0 161.5L205.4 161.5zM126.3 162.5L131.0 162.5L130.8 164.3L126.1 164.3zM156.8 162.5L161.5 162.5L161.6 164.3L156.9 164.3zM162.9 162.5L167.6 162.5L167.7 164.3L163.1 164.3zM181.2 162.5L185.9 162.5L186.2 164.3L181.5 164.3zM2.3 165.3L7.0 165.3L5.7 167.2L0.9 167.2zM20.9 165.3L25.6 165.3L24.4 167.2L19.7 167.2zM88.9 165.3L93.6 165.3L93.1 167.2L88.3 167.2zM119.8 165.3L124.5 165.3L124.3 167.2L119.5 167.2zM169.3 165.3L174.0 165.3L174.2 167.2L169.5 167.2zM218.8 165.3L223.5 165.3L224.2 167.2L219.4 167.2zM56.7 168.2L61.4 168.2L60.6 170.2L55.8 170.2zM69.2 168.2L74.0 168.2L73.3 170.2L68.5 170.2zM119.4 168.2L124.2 168.2L123.9 170.2L119.1 170.2zM163.3 168.2L168.1 168.2L168.2 170.2L163.4 170.2zM213.5 168.2L218.2 168.2L218.9 170.2L214.1 170.2zM219.7 168.2L224.5 168.2L225.2 170.2L220.4 170.2zM80.8 171.2L85.6 171.2L85.0 173.3L80.1 173.3zM106.2 171.2L111.1 171.2L110.7 173.3L105.8 173.3zM157.1 171.2L162.0 171.2L162.1 173.3L157.2 173.3zM60.4 174.3L65.3 174.3L64.5 176.4L59.5 176.4zM125.0 174.3L129.9 174.3L129.7 176.4L124.7 176.4zM150.8 174.3L155.7 174.3L155.7 176.4L150.8 176.4zM32.9 177.5L37.9 177.5L36.7 179.6L31.7 179.6zM98.4 177.5L103.4 177.5L102.9 179.6L97.9 179.6zM104.9 177.5L109.9 177.5L109.5 179.6L104.5 179.6zM124.6 177.5L129.6 177.5L129.4 179.6L124.3 179.6zM163.9 177.5L168.9 177.5L169.0 179.6L164.0 179.6zM24.5 180.7L29.5 180.7L28.3 182.9L23.2 182.9zM71.0 180.7L76.1 180.7L75.3 182.9L70.2 182.9zM97.6 180.7L102.7 180.7L102.2 182.9L97.1 182.9zM117.6 180.7L122.6 180.7L122.3 182.9L117.2 182.9zM15.8 184.1L21.0 184.1L19.7 186.3L14.5 186.3zM56.3 184.1L61.5 184.1L60.6 186.3L55.4 186.3zM69.8 184.1L75.0 184.1L74.2 186.3L69.0 186.3zM110.3 184.1L115.4 184.1L115.1 186.3L109.9 186.3zM130.6 184.1L135.7 184.1L135.5 186.3L130.4 186.3zM144.1 184.1L149.2 184.1L149.2 186.3L144.0 186.3zM82.3 187.5L87.5 187.5L86.9 189.8L81.6 189.8zM89.2 187.5L94.4 187.5L93.8 189.8L88.5 189.8zM171.4 187.5L176.6 187.5L176.9 189.8L171.6 189.8zM185.1 187.5L190.3 187.5L190.7 189.8L185.4 189.8zM11.7 191.0L16.9 191.0L15.6 193.4L10.2 193.4zM60.4 191.0L65.7 191.0L64.8 193.4L59.4 193.4zM74.3 191.0L79.6 191.0L78.8 193.4L73.5 193.4zM150.8 191.0L156.1 191.0L156.2 193.4L150.8 193.4zM157.8 191.0L163.1 191.0L163.2 193.4L157.9 193.4zM206.5 191.0L211.8 191.0L212.4 193.4L207.1 193.4zM213.5 191.0L218.8 191.0L219.5 193.4L214.1 193.4zM9.5 194.7L14.8 194.7L13.4 197.2L8.0 197.2zM30.7 194.7L36.1 194.7L34.8 197.2L29.4 197.2zM94.3 194.7L99.7 194.7L99.1 197.2L93.7 197.2zM101.4 194.7L106.7 194.7L106.3 197.2L100.9 197.2zM172.1 194.7L177.4 194.7L177.7 197.2L172.3 197.2zM193.3 194.7L198.6 194.7L199.1 197.2L193.7 197.2zM93.4 198.4L98.9 198.4L98.3 201.0L92.8 201.0zM100.6 198.4L106.0 198.4L105.6 201.0L100.1 201.0zM107.8 198.4L113.2 198.4L112.8 201.0L107.3 201.0zM115.0 198.4L120.4 198.4L120.1 201.0L114.6 201.0zM136.5 198.4L142.0 198.4L141.9 201.0L136.4 201.0zM179.6 198.4L185.0 198.4L185.4 201.0L179.9 201.0zM194.0 198.4L199.4 198.4L199.9 201.0L194.4 201.0zM215.5 198.4L221.0 198.4L221.7 201.0L216.2 201.0zM-2.4 202.3L3.2 202.3L1.6 204.9L-4.0 204.9zM19.5 202.3L25.1 202.3L23.7 204.9L18.1 204.9zM48.7 202.3L54.2 202.3L53.2 204.9L47.6 204.9zM121.7 202.3L127.2 202.3L127.0 204.9L121.4 204.9zM172.8 202.3L178.3 202.3L178.6 204.9L173.0 204.9zM187.4 202.3L192.9 202.3L193.4 204.9L187.8 204.9zM202.0 202.3L207.5 202.3L208.1 204.9L202.5 204.9zM39.6 206.3L45.3 206.3L44.1 209.0L38.4 209.0zM195.4 206.3L201.0 206.3L201.6 209.0L195.9 209.0z" fill="#4b4d45"/>
<path d="M27 109 L38 108.2 L50 108.6 L58 109.5 L63 111 L63 117.5 L27 118.5 Z" fill="#d2d6da"/>
<path d="M30 115 L60 114 L61 117.5 L30 118.5 Z" fill="#a4aab0" opacity="0.5"/>
<rect x="120" y="111" width="100" height="10" fill="#5e5e58" opacity="0.5"/>
<path d="M104 130 Q108 127 118 127.3 Q128 127 132 129 Q128 132.5 116 132.5 Q106 132.5 104 130 Z" fill="#7c7e7e" opacity="0.85"/>
<ellipse cx="203" cy="116" rx="20" ry="4.5" fill="#706e66" opacity="0.7"/>
<path d="M93.5 119 L93 104 Q93 100 95.5 97 L100.5 92 Q102.5 90 106 90 L129.5 90 Q132.5 90 133.3 92.5 L135 100 L135 119 Z" fill="#e0e0de"/>
<path d="M93 104 Q93 100 95.5 97 L100.5 92 L104 91.5 L104 119 L93.5 118 Z" fill="#cacac8"/>
<path d="M105.5 92.3 L131.8 92.3 L133.8 101 L104.8 101 Z" fill="#25292e"/>
<rect x="101.4" y="102" width="3" height="7.5" fill="#a84242"/>
<rect x="113" y="105.5" width="13" height="3.2" fill="#c6c6c2"/>
<rect x="104.5" y="112" width="30.5" height="1" fill="#bcbcb8"/>
<path d="M86 118.5 L135 118.5 L135 124 L120 125 L92 124.5 L86 123 Z" fill="#1c1c1a"/>
<rect x="93.5" y="111" width="4.5" height="8" fill="#2a2a28"/>
<path d="M158 105 L162 97.5 Q164 96.5 168 96.5 L181 96.5 Q184 96.8 186.5 100 L190.5 104.5 Q192.3 107 192.3 111 L192 119 L158 119 Z" fill="#dcdcda"/>
<path d="M162.5 97.5 L181 97.5 Q183.5 98 186 101 L187.5 104 L160.5 104 Z" fill="#3c4450"/>
<rect x="159" y="108" width="33" height="1.6" fill="#3a3a3a" opacity="0.7"/>
<rect x="165" y="112" width="14" height="3" fill="#c4c4c2"/>
<path d="M158 118.5 L192 118.5 L191 124 L182 124 L181 121 L160 121 Z" fill="#262624"/>
<path d="M61 96.5 L74 96 Q78.5 97 78.5 103 L77.5 124 L56 124 L56 106 Q57 98 61 96.5 Z" fill="#0e0e0e"/>
<path d="M76.5 103 L81 101.5 L82.6 110 L82.6 124 L77.5 124 Z" fill="#8e8e8a" opacity="0.75"/>
<path d="M78 112 L82.6 111 L82.6 118 L78.5 119 Z" fill="#c8c8c4" opacity="0.8"/>
<path d="M58 124 L80 124 L81 156 L58 156 Z" fill="#252622"/>
<path d="M60 148 Q66 156 74 158 M66 147 Q72 152 80 153 M70 146 L75 156" stroke="#8a8a86" stroke-width="0.6" fill="none"/>
<rect x="64.5" y="92" width="8.5" height="6" fill="#303236"/>
<path d="M62.8 93 Q62.3 85.6 69 85.6 Q75.7 85.6 75.3 93 Z" fill="#bc8636"/>
<path d="M64 88 Q66 86.3 69 86.2 Q72 86.3 74 88" stroke="#d09a48" stroke-width="1" fill="none"/>
<path d="M142.5 98 L153.5 97.5 Q159.5 99 160.5 106 L162 124 L157 147 L139 147 L137 124 L137.5 106 Q138.5 99 142.5 98 Z" fill="#687080"/>
<path d="M139 104 L146 101 L150 106 L147 113 L140 114 Z" fill="#8a92a0" opacity="0.9"/>
<path d="M150 104 L156 101 L159.5 108 L156 112 L150 110 Z" fill="#7e8796" opacity="0.9"/>
<path d="M140 114 L158 111 L159 116 L141 119 Z" fill="#545b66" opacity="0.9"/>
<path d="M141 120 L156 118 L155 124 L142 124 Z" fill="#7c8594" opacity="0.8"/>
<path d="M144 96 L152 96 L152.5 104 L148 107 L144 104 Z" fill="#2a2b2e"/>
<path d="M145 147 L155 147 L157 154 L144 154 Z" fill="#2a2c30"/>
<path d="M140 153.5 L148 152.5 L148.5 158 L139.5 158 Z M150 152 L158 151.5 L159 156 L150 157 Z" fill="#c8c8c8"/>
<rect x="144" y="89.5" width="8.5" height="7" fill="#2e2c2a"/>
<path d="M143 91 Q142.7 84.8 148 84.8 Q153.3 84.8 153 91 Z" fill="#c8963e"/>
<path d="M144.3 87.2 Q146 85.6 148 85.6 Q150.5 85.6 152 87.2" stroke="#dcae5c" stroke-width="0.9" fill="none"/>
</g></g>
<path d="M54.2 84 V159.6 H83.2 V84" fill="none" stroke="#d83030" stroke-width="1"/>
<path d="M135.2 83 V161.6 H163.3 V83" fill="none" stroke="#d83030" stroke-width="1"/>
<rect x="53.5" y="69.9" width="63.8" height="14.95" fill="#cc0202"/>
<rect x="133.9" y="68.3" width="64.1" height="15.6" fill="#cc0202"/>
<text x="85.5" y="81.1" class="wl" textLength="43.6" lengthAdjust="spacingAndGlyphs">Worker 6</text>
<text x="166" y="79.7" class="wl" textLength="43.8" lengthAdjust="spacingAndGlyphs">Worker 1</text>
<circle cx="68.6" cy="122.2" r="1.3" fill="#ff1010"/>
<circle cx="148.8" cy="122.7" r="1.3" fill="#ff1010"/>
</g>
<rect x="55" y="360" width="27.6" height="11.7" fill="#fff"/><text x="68.80" y="370.00" class="sc" textLength="23.4" lengthAdjust="spacingAndGlyphs">1 : 1</text>
<rect x="50.2" y="371.1" width="35.1" height="11.4" fill="#fff"/><text x="67.75" y="380.50" class="sc" textLength="34.6" lengthAdjust="spacingAndGlyphs">33.45%</text>
<rect x="135" y="360.8" width="28.7" height="12.0" fill="#fff"/><text x="149.35" y="371.10" class="sc" textLength="24.6" lengthAdjust="spacingAndGlyphs">0 : 0</text>
<rect x="130.7" y="372.2" width="36.3" height="11.3" fill="#fff"/><text x="148.85" y="381.50" class="sc" textLength="35.6" lengthAdjust="spacingAndGlyphs">89.11%</text>
<g transform="translate(0,0)">
<text x="397.6" y="15.5" class="ttl">Top-view of GPS and Raycasts to Image Objects</text>
<path d="M321.95 24.1 V204.9" class="grid"/>
<path d="M365.20 24.1 V204.9" class="grid"/>
<path d="M408.45 24.1 V204.9" class="grid"/>
<path d="M451.70 24.1 V204.9" class="grid"/>
<path d="M494.95 24.1 V204.9" class="grid"/>
<path d="M278.7 182.30 H538.2" class="grid"/>
<path d="M278.7 159.70 H538.2" class="grid"/>
<path d="M278.7 137.10 H538.2" class="grid"/>
<path d="M278.7 114.50 H538.2" class="grid"/>
<path d="M278.7 91.90 H538.2" class="grid"/>
<path d="M278.7 69.30 H538.2" class="grid"/>
<path d="M278.7 46.70 H538.2" class="grid"/>
<path d="M278.70 159.70 L538.20 133.80" class="ray" stroke="#f51515"/>
<path d="M278.70 159.70 L538.20 110.30" class="ray" stroke="#1515f5"/>
<circle cx="370.82" cy="160.69" r="2.4" fill="#f01515"/>
<circle cx="395.48" cy="164.22" r="2.4" fill="#1515f0"/>
<rect x="278.7" y="24.1" width="259.50" height="180.80" fill="none" stroke="#3c3c3c" stroke-width="1.2"/>
<path d="M278.70 204.9 V208.4" stroke="#3c3c3c" stroke-width="1"/>
<text x="278.70" y="218.50" class="tk" text-anchor="middle">0</text>
<path d="M321.95 204.9 V208.4" stroke="#3c3c3c" stroke-width="1"/>
<text x="321.95" y="218.50" class="tk" text-anchor="middle">5</text>
<path d="M365.20 204.9 V208.4" stroke="#3c3c3c" stroke-width="1"/>
<text x="365.20" y="218.50" class="tk" text-anchor="middle">10</text>
<path d="M408.45 204.9 V208.4" stroke="#3c3c3c" stroke-width="1"/>
<text x="408.45" y="218.50" class="tk" text-anchor="middle">15</text>
<path d="M451.70 204.9 V208.4" stroke="#3c3c3c" stroke-width="1"/>
<text x="451.70" y="218.50" class="tk" text-anchor="middle">20</text>
<path d="M494.95 204.9 V208.4" stroke="#3c3c3c" stroke-width="1"/>
<text x="494.95" y="218.50" class="tk" text-anchor="middle">25</text>
<path d="M538.20 204.9 V208.4" stroke="#3c3c3c" stroke-width="1"/>
<text x="538.20" y="218.50" class="tk" text-anchor="middle">30</text>
<path d="M275.2 204.90 H278.7" stroke="#3c3c3c" stroke-width="1"/>
<text x="272" y="208.50" class="tk" text-anchor="end">−10</text>
<path d="M275.2 182.30 H278.7" stroke="#3c3c3c" stroke-width="1"/>
<text x="272" y="185.90" class="tk" text-anchor="end">−5</text>
<path d="M275.2 159.70 H278.7" stroke="#3c3c3c" stroke-width="1"/>
<text x="272" y="163.30" class="tk" text-anchor="end">0</text>
<path d="M275.2 137.10 H278.7" stroke="#3c3c3c" stroke-width="1"/>
<text x="272" y="140.70" class="tk" text-anchor="end">5</text>
<path d="M275.2 114.50 H278.7" stroke="#3c3c3c" stroke-width="1"/>
<text x="272" y="118.10" class="tk" text-anchor="end">10</text>
<path d="M275.2 91.90 H278.7" stroke="#3c3c3c" stroke-width="1"/>
<text x="272" y="95.50" class="tk" text-anchor="end">15</text>
<path d="M275.2 69.30 H278.7" stroke="#3c3c3c" stroke-width="1"/>
<text x="272" y="72.90" class="tk" text-anchor="end">20</text>
<path d="M275.2 46.70 H278.7" stroke="#3c3c3c" stroke-width="1"/>
<text x="272" y="50.30" class="tk" text-anchor="end">25</text>
<path d="M275.2 24.10 H278.7" stroke="#3c3c3c" stroke-width="1"/>
<text x="272" y="27.70" class="tk" text-anchor="end">30</text>
<path d="M275.40 160.80 L282.00 160.80 L278.70 155.60 Z" fill="#000"/>
<text transform="translate(254,111.8) rotate(-90)" class="yl">User’s Gaze Direction</text>
<g transform="translate(0,0)">
<rect x="453.8" y="26.3" width="82.3" height="74.3" rx="1.5" fill="#fff" fill-opacity="1" stroke="#cbcbcb" stroke-width="0.9"/>
<path d="M469.6 41.8 L476.8 41.8 L473.2 36.2 Z" fill="#000"/>
<circle cx="472.5" cy="52.4" r="2.4" fill="#f01515"/>
<circle cx="472.5" cy="65.1" r="2.4" fill="#1515f0"/>
<path d="M462.3 78.2 H480.5" class="lray" stroke="#f51515"/>
<path d="M462.3 91 H480.5" class="lray" stroke="#1515f5"/>
<text x="485.5" y="41.8" class="lg">User</text>
<text x="485.5" y="54.6" class="lg">GPS 0</text>
<text x="485.5" y="67.4" class="lg">GPS 1</text>
<text x="485.5" y="80.8" class="lg">Raycast 1</text>
<text x="485.5" y="92.8" class="lg">Raycast 6</text>
</g>
</g>
<g transform="translate(0,235)">
<text x="399.70000000000005" y="15.1" class="ttl">Top-view of GPS and Raycasts to Image Objects</text>
<path d="M321.95 24.1 V204.9" class="grid"/>
<path d="M365.20 24.1 V204.9" class="grid"/>
<path d="M408.45 24.1 V204.9" class="grid"/>
<path d="M451.70 24.1 V204.9" class="grid"/>
<path d="M494.95 24.1 V204.9" class="grid"/>
<path d="M278.7 182.30 H538.2" class="grid"/>
<path d="M278.7 159.70 H538.2" class="grid"/>
<path d="M278.7 137.10 H538.2" class="grid"/>
<path d="M278.7 114.50 H538.2" class="grid"/>
<path d="M278.7 91.90 H538.2" class="grid"/>
<path d="M278.7 69.30 H538.2" class="grid"/>
<path d="M278.7 46.70 H538.2" class="grid"/>
<path d="M278.70 159.70 L538.20 133.80" class="ray" stroke="#f51515"/>
<path d="M278.70 159.70 L538.20 110.30" class="ray" stroke="#1515f5"/>
<circle cx="368.49" cy="155.00" r="2.4" fill="#f01515"/>
<circle cx="395.30" cy="179.00" r="2.4" fill="#1515f0"/>
<rect x="278.7" y="24.1" width="259.50" height="180.80" fill="none" stroke="#3c3c3c" stroke-width="1.2"/>
<path d="M278.70 204.9 V208.4" stroke="#3c3c3c" stroke-width="1"/>
<text x="278.70" y="218.50" class="tk" text-anchor="middle">0</text>
<path d="M321.95 204.9 V208.4" stroke="#3c3c3c" stroke-width="1"/>
<text x="321.95" y="218.50" class="tk" text-anchor="middle">5</text>
<path d="M365.20 204.9 V208.4" stroke="#3c3c3c" stroke-width="1"/>
<text x="365.20" y="218.50" class="tk" text-anchor="middle">10</text>
<path d="M408.45 204.9 V208.4" stroke="#3c3c3c" stroke-width="1"/>
<text x="408.45" y="218.50" class="tk" text-anchor="middle">15</text>
<path d="M451.70 204.9 V208.4" stroke="#3c3c3c" stroke-width="1"/>
<text x="451.70" y="218.50" class="tk" text-anchor="middle">20</text>
<path d="M494.95 204.9 V208.4" stroke="#3c3c3c" stroke-width="1"/>
<text x="494.95" y="218.50" class="tk" text-anchor="middle">25</text>
<path d="M538.20 204.9 V208.4" stroke="#3c3c3c" stroke-width="1"/>
<text x="538.20" y="218.50" class="tk" text-anchor="middle">30</text>
<path d="M275.2 204.90 H278.7" stroke="#3c3c3c" stroke-width="1"/>
<text x="272" y="208.50" class="tk" text-anchor="end">−10</text>
<path d="M275.2 182.30 H278.7" stroke="#3c3c3c" stroke-width="1"/>
<text x="272" y="185.90" class="tk" text-anchor="end">−5</text>
<path d="M275.2 159.70 H278.7" stroke="#3c3c3c" stroke-width="1"/>
<text x="272" y="163.30" class="tk" text-anchor="end">0</text>
<path d="M275.2 137.10 H278.7" stroke="#3c3c3c" stroke-width="1"/>
<text x="272" y="140.70" class="tk" text-anchor="end">5</text>
<path d="M275.2 114.50 H278.7" stroke="#3c3c3c" stroke-width="1"/>
<text x="272" y="118.10" class="tk" text-anchor="end">10</text>
<path d="M275.2 91.90 H278.7" stroke="#3c3c3c" stroke-width="1"/>
<text x="272" y="95.50" class="tk" text-anchor="end">15</text>
<path d="M275.2 69.30 H278.7" stroke="#3c3c3c" stroke-width="1"/>
<text x="272" y="72.90" class="tk" text-anchor="end">20</text>
<path d="M275.2 46.70 H278.7" stroke="#3c3c3c" stroke-width="1"/>
<text x="272" y="50.30" class="tk" text-anchor="end">25</text>
<path d="M275.2 24.10 H278.7" stroke="#3c3c3c" stroke-width="1"/>
<text x="272" y="27.70" class="tk" text-anchor="end">30</text>
<path d="M275.40 160.80 L282.00 160.80 L278.70 155.60 Z" fill="#000"/>
<text transform="translate(254,113.0) rotate(-90)" class="yl">User’s Gaze Direction</text>
<g transform="translate(0,1.6)">
<rect x="453.8" y="26.3" width="82.3" height="74.3" rx="1.5" fill="#fff" fill-opacity="1" stroke="#cbcbcb" stroke-width="0.9"/>
<path d="M469.6 41.8 L476.8 41.8 L473.2 36.2 Z" fill="#000"/>
<circle cx="472.5" cy="52.4" r="2.4" fill="#f01515"/>
<circle cx="472.5" cy="65.1" r="2.4" fill="#1515f0"/>
<path d="M462.3 78.2 H480.5" class="lray" stroke="#f51515"/>
<path d="M462.3 91 H480.5" class="lray" stroke="#1515f5"/>
<text x="485.5" y="41.8" class="lg">User</text>
<text x="485.5" y="54.6" class="lg">GPS 0</text>
<text x="485.5" y="67.4" class="lg">GPS 1</text>
<text x="485.5" y="80.8" class="lg">Raycast 1</text>
<text x="485.5" y="92.8" class="lg">Raycast 6</text>
</g>
</g>
</svg>
<div class="tb" style="top:4px"><span class="bi">Experiment 2 with </span><span class="it">S<sub>C</sub></span><span class="b"> ≥ 70%, Frame 1459</span></div>
<div class="tb" style="top:239px"><span class="bi">Experiment 3 with </span><span class="it">S<sub>C</sub></span><span class="b"> ≥ 70%, Frame 1459</span></div>
</body></html>
